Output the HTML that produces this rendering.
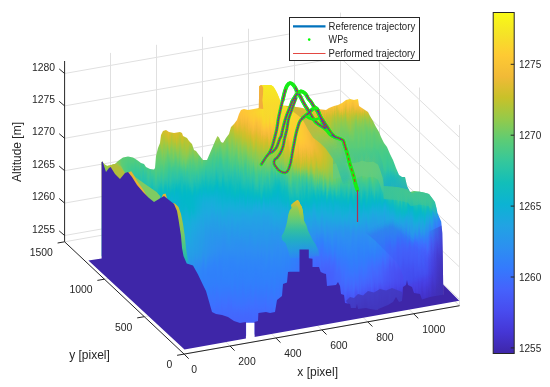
<!DOCTYPE html><html><head><meta charset="utf-8"><title>plot</title><style>html,body{margin:0;padding:0;background:#fff}svg{display:block}text{font-family:"Liberation Sans",sans-serif;fill:#262626}</style></head><body>
<svg width="550" height="387" viewBox="0 0 550 387">
<defs>
<linearGradient id="cb" x1="0" y1="0" x2="0" y2="1"><stop offset="0.0000" stop-color="#f9fb15"/><stop offset="0.0625" stop-color="#f5e327"/><stop offset="0.1250" stop-color="#feca33"/><stop offset="0.1875" stop-color="#f1ba37"/><stop offset="0.2500" stop-color="#c8c129"/><stop offset="0.3125" stop-color="#94ca4a"/><stop offset="0.3750" stop-color="#5ccc76"/><stop offset="0.4375" stop-color="#34c79c"/><stop offset="0.5000" stop-color="#12beb9"/><stop offset="0.5625" stop-color="#0cb3d3"/><stop offset="0.6250" stop-color="#21a3e3"/><stop offset="0.6875" stop-color="#2c90f0"/><stop offset="0.7500" stop-color="#347afd"/><stop offset="0.8125" stop-color="#4562fc"/><stop offset="0.8750" stop-color="#484cef"/><stop offset="0.9375" stop-color="#4536d5"/><stop offset="1.0000" stop-color="#3e26a8"/></linearGradient>
<clipPath id="sil"><polygon points="101.6,162.0 102.6,161.6 104.0,164.0 107.0,166.0 111.0,165.0 115.0,164.0 118.0,161.0 123.0,157.6 128.0,156.6 133.0,157.6 137.0,160.0 141.0,163.0 144.0,164.0 146.0,167.0 150.0,169.0 154.0,169.6 155.0,168.0 156.0,156.0 158.0,148.0 160.0,143.0 161.0,135.0 163.0,131.0 166.0,130.0 169.0,132.0 174.0,133.0 180.0,132.0 182.0,133.0 183.0,136.0 187.0,138.0 189.0,141.0 192.0,144.0 194.0,150.0 196.0,151.0 199.0,155.0 203.0,160.0 207.0,160.0 210.0,153.0 213.0,146.0 216.0,139.0 217.5,136.0 219.0,137.5 221.0,142.0 223.0,143.0 226.0,138.0 229.0,134.0 231.0,127.0 234.0,124.0 237.0,120.0 239.0,114.0 241.0,110.0 244.0,109.0 248.0,110.0 254.0,109.0 258.8,108.0 259.2,86.3 260.5,85.3 265.0,85.0 271.0,85.0 273.5,86.8 275.5,90.0 277.3,93.5 279.0,97.5 280.5,102.0 282.5,105.5 288.0,106.0 296.0,107.0 302.0,108.0 310.0,110.0 318.0,109.0 326.0,110.0 329.0,108.0 334.0,106.0 338.0,105.0 342.0,103.0 346.0,100.0 350.0,99.0 354.0,100.0 358.0,99.0 359.0,106.0 362.0,108.0 365.0,110.0 368.0,112.0 370.0,116.0 373.0,121.0 376.0,127.0 379.0,132.0 381.0,137.0 384.0,143.0 387.0,147.0 390.0,154.0 393.0,160.0 396.0,168.0 399.0,175.0 402.0,177.0 405.0,177.0 407.0,186.0 410.0,192.0 414.0,191.0 419.0,191.6 424.0,192.4 429.0,194.0 432.0,198.0 435.0,202.0 436.5,208.0 437.5,213.0 439.2,217.0 441.2,221.6 442.3,233.0 442.8,256.5 443.2,287.0 443.2,296.5 255.0,334.5 245.0,336.0 190.0,340.0 101.6,256.0"/></clipPath>
<filter id="bl" x="-5%" y="-5%" width="110%" height="110%" color-interpolation-filters="sRGB"><feGaussianBlur stdDeviation="3" result="b"/><feTurbulence type="fractalNoise" baseFrequency="0.38 0.035" numOctaves="2" seed="7" result="n"/><feColorMatrix in="n" type="matrix" values="1 0 0 0 0  0 0 0 0 0.5  0 0 0 0 0.5  0 0 0 0 1" result="n2"/><feDisplacementMap in="b" in2="n2" scale="13" xChannelSelector="G" yChannelSelector="R"/></filter><filter id="b1"><feGaussianBlur stdDeviation="1"/></filter><filter id="b2"><feGaussianBlur stdDeviation="2"/></filter>
</defs>
<rect width="550" height="387" fill="#fff"/>
<g stroke="#e0e0e0" stroke-width="1" fill="none">
<line x1="110.5" y1="233.7" x2="110.5" y2="52.9"/>
<line x1="110.5" y1="233.7" x2="230.0" y2="346.0"/>
<line x1="156.5" y1="225.6" x2="156.5" y2="44.8"/>
<line x1="156.4" y1="225.6" x2="275.9" y2="338.0"/>
<line x1="202.5" y1="217.6" x2="202.5" y2="36.8"/>
<line x1="202.3" y1="217.6" x2="321.9" y2="329.9"/>
<line x1="248.5" y1="209.5" x2="248.5" y2="28.7"/>
<line x1="248.2" y1="209.5" x2="367.8" y2="321.9"/>
<line x1="294.5" y1="201.5" x2="294.5" y2="20.7"/>
<line x1="294.1" y1="201.5" x2="413.7" y2="313.8"/>
<line x1="340.5" y1="193.4" x2="340.5" y2="12.6"/>
<line x1="340.1" y1="193.4" x2="459.6" y2="305.7"/>
<line x1="459.5" y1="305.7" x2="459.5" y2="124.9"/>
<line x1="459.6" y1="305.7" x2="184.1" y2="354.1"/>
<line x1="419.5" y1="268.3" x2="419.5" y2="87.5"/>
<line x1="419.8" y1="268.3" x2="144.2" y2="316.7"/>
<line x1="379.5" y1="230.8" x2="379.5" y2="50.0"/>
<line x1="379.9" y1="230.8" x2="104.4" y2="279.2"/>
<line x1="64.6" y1="235.5" x2="340.1" y2="187.1"/>
<line x1="340.1" y1="187.1" x2="459.6" y2="299.5"/>
<line x1="64.6" y1="203.1" x2="340.1" y2="154.7"/>
<line x1="340.1" y1="154.7" x2="459.6" y2="267.1"/>
<line x1="64.6" y1="170.7" x2="340.1" y2="122.3"/>
<line x1="340.1" y1="122.3" x2="459.6" y2="234.7"/>
<line x1="64.6" y1="138.3" x2="340.1" y2="89.9"/>
<line x1="340.1" y1="89.9" x2="459.6" y2="202.3"/>
<line x1="64.6" y1="105.9" x2="340.1" y2="57.5"/>
<line x1="340.1" y1="57.5" x2="459.6" y2="169.9"/>
<line x1="64.6" y1="73.5" x2="340.1" y2="25.1"/>
<line x1="340.1" y1="25.1" x2="459.6" y2="137.5"/>
<polyline points="64.6,241.8 340.1,193.4 459.6,305.7"/>
</g>
<g clip-path="url(#sil)"><g filter="url(#bl)">
<rect x="252" y="74" width="7" height="7" fill="#f6e028"/>
<rect x="258" y="74" width="7" height="7" fill="#f5ee21"/>
<rect x="264" y="74" width="7" height="7" fill="#f9fb15"/>
<rect x="270" y="74" width="7" height="7" fill="#f9fb15"/>
<rect x="276" y="74" width="7" height="7" fill="#f9fb15"/>
<rect x="252" y="80" width="7" height="7" fill="#fad42e"/>
<rect x="258" y="80" width="7" height="7" fill="#f5e725"/>
<rect x="264" y="80" width="7" height="7" fill="#f9f916"/>
<rect x="270" y="80" width="7" height="7" fill="#f9fb15"/>
<rect x="276" y="80" width="7" height="7" fill="#f9fb15"/>
<rect x="282" y="80" width="7" height="7" fill="#f8f719"/>
<rect x="246" y="86" width="7" height="7" fill="#fec239"/>
<rect x="252" y="86" width="7" height="7" fill="#fec735"/>
<rect x="258" y="86" width="7" height="7" fill="#f8da2b"/>
<rect x="264" y="86" width="7" height="7" fill="#f9fa15"/>
<rect x="270" y="86" width="7" height="7" fill="#f9fa16"/>
<rect x="276" y="86" width="7" height="7" fill="#f7f41c"/>
<rect x="282" y="86" width="7" height="7" fill="#f5ed21"/>
<rect x="246" y="92" width="7" height="7" fill="#fec03a"/>
<rect x="252" y="92" width="7" height="7" fill="#fec437"/>
<rect x="258" y="92" width="7" height="7" fill="#fbd12f"/>
<rect x="264" y="92" width="7" height="7" fill="#f6f11e"/>
<rect x="270" y="92" width="7" height="7" fill="#f8f719"/>
<rect x="276" y="92" width="7" height="7" fill="#f5ed22"/>
<rect x="282" y="92" width="7" height="7" fill="#f5e327"/>
<rect x="288" y="92" width="7" height="7" fill="#f6df29"/>
<rect x="330" y="92" width="7" height="7" fill="#f5e227"/>
<rect x="336" y="92" width="7" height="7" fill="#f5e228"/>
<rect x="342" y="92" width="7" height="7" fill="#f6de29"/>
<rect x="348" y="92" width="7" height="7" fill="#f8da2b"/>
<rect x="354" y="92" width="7" height="7" fill="#f8da2b"/>
<rect x="360" y="92" width="7" height="7" fill="#f9d82c"/>
<rect x="228" y="98" width="7" height="7" fill="#febd3c"/>
<rect x="234" y="98" width="7" height="7" fill="#fec03b"/>
<rect x="240" y="98" width="7" height="7" fill="#fec239"/>
<rect x="246" y="98" width="7" height="7" fill="#fec438"/>
<rect x="252" y="98" width="7" height="7" fill="#fec934"/>
<rect x="258" y="98" width="7" height="7" fill="#f8da2b"/>
<rect x="264" y="98" width="7" height="7" fill="#f6ef20"/>
<rect x="270" y="98" width="7" height="7" fill="#f7f31d"/>
<rect x="276" y="98" width="7" height="7" fill="#f5e426"/>
<rect x="282" y="98" width="7" height="7" fill="#f6dd2a"/>
<rect x="288" y="98" width="7" height="7" fill="#f8da2b"/>
<rect x="294" y="98" width="7" height="7" fill="#fad42e"/>
<rect x="300" y="98" width="7" height="7" fill="#fccf30"/>
<rect x="306" y="98" width="7" height="7" fill="#fdcd32"/>
<rect x="312" y="98" width="7" height="7" fill="#fdcd32"/>
<rect x="318" y="98" width="7" height="7" fill="#fccf30"/>
<rect x="324" y="98" width="7" height="7" fill="#fbd22f"/>
<rect x="330" y="98" width="7" height="7" fill="#fbd32e"/>
<rect x="336" y="98" width="7" height="7" fill="#fbd32e"/>
<rect x="342" y="98" width="7" height="7" fill="#fcd030"/>
<rect x="348" y="98" width="7" height="7" fill="#fec934"/>
<rect x="354" y="98" width="7" height="7" fill="#fdcc32"/>
<rect x="360" y="98" width="7" height="7" fill="#feca34"/>
<rect x="366" y="98" width="7" height="7" fill="#fec438"/>
<rect x="372" y="98" width="7" height="7" fill="#febe3c"/>
<rect x="228" y="104" width="7" height="7" fill="#fcbc3d"/>
<rect x="234" y="104" width="7" height="7" fill="#fec13a"/>
<rect x="240" y="104" width="7" height="7" fill="#fec636"/>
<rect x="246" y="104" width="7" height="7" fill="#feca33"/>
<rect x="252" y="104" width="7" height="7" fill="#fdcc32"/>
<rect x="258" y="104" width="7" height="7" fill="#f9d62d"/>
<rect x="264" y="104" width="7" height="7" fill="#f5ea23"/>
<rect x="270" y="104" width="7" height="7" fill="#f5eb23"/>
<rect x="276" y="104" width="7" height="7" fill="#f5e426"/>
<rect x="282" y="104" width="7" height="7" fill="#f6e128"/>
<rect x="288" y="104" width="7" height="7" fill="#f8da2b"/>
<rect x="294" y="104" width="7" height="7" fill="#fcd030"/>
<rect x="300" y="104" width="7" height="7" fill="#fec736"/>
<rect x="306" y="104" width="7" height="7" fill="#fec13a"/>
<rect x="312" y="104" width="7" height="7" fill="#febf3c"/>
<rect x="318" y="104" width="7" height="7" fill="#fec03b"/>
<rect x="324" y="104" width="7" height="7" fill="#fec03a"/>
<rect x="330" y="104" width="7" height="7" fill="#febe3c"/>
<rect x="336" y="104" width="7" height="7" fill="#febd3c"/>
<rect x="342" y="104" width="7" height="7" fill="#febd3c"/>
<rect x="348" y="104" width="7" height="7" fill="#f9bb3d"/>
<rect x="354" y="104" width="7" height="7" fill="#fabb3d"/>
<rect x="360" y="104" width="7" height="7" fill="#f9bb3d"/>
<rect x="366" y="104" width="7" height="7" fill="#eeba35"/>
<rect x="372" y="104" width="7" height="7" fill="#e7bb2e"/>
<rect x="222" y="110" width="7" height="7" fill="#eeba34"/>
<rect x="228" y="110" width="7" height="7" fill="#f6ba3c"/>
<rect x="234" y="110" width="7" height="7" fill="#febe3c"/>
<rect x="240" y="110" width="7" height="7" fill="#fec636"/>
<rect x="246" y="110" width="7" height="7" fill="#fdcc32"/>
<rect x="252" y="110" width="7" height="7" fill="#fbd22f"/>
<rect x="258" y="110" width="7" height="7" fill="#f7db2a"/>
<rect x="264" y="110" width="7" height="7" fill="#f5e725"/>
<rect x="270" y="110" width="7" height="7" fill="#f5e526"/>
<rect x="276" y="110" width="7" height="7" fill="#f6e028"/>
<rect x="282" y="110" width="7" height="7" fill="#f6df29"/>
<rect x="288" y="110" width="7" height="7" fill="#f8da2b"/>
<rect x="294" y="110" width="7" height="7" fill="#fccf30"/>
<rect x="300" y="110" width="7" height="7" fill="#fec239"/>
<rect x="306" y="110" width="7" height="7" fill="#f7ba3c"/>
<rect x="312" y="110" width="7" height="7" fill="#efba35"/>
<rect x="318" y="110" width="7" height="7" fill="#ecba32"/>
<rect x="324" y="110" width="7" height="7" fill="#e6bb2d"/>
<rect x="330" y="110" width="7" height="7" fill="#d4bf28"/>
<rect x="336" y="110" width="7" height="7" fill="#d0c028"/>
<rect x="342" y="110" width="7" height="7" fill="#d3bf27"/>
<rect x="348" y="110" width="7" height="7" fill="#d0c027"/>
<rect x="354" y="110" width="7" height="7" fill="#d4bf27"/>
<rect x="360" y="110" width="7" height="7" fill="#d0c028"/>
<rect x="366" y="110" width="7" height="7" fill="#c5c22a"/>
<rect x="372" y="110" width="7" height="7" fill="#c5c22a"/>
<rect x="378" y="110" width="7" height="7" fill="#c4c22b"/>
<rect x="222" y="116" width="7" height="7" fill="#dfbc2a"/>
<rect x="228" y="116" width="7" height="7" fill="#e9bb30"/>
<rect x="234" y="116" width="7" height="7" fill="#f7ba3c"/>
<rect x="240" y="116" width="7" height="7" fill="#febf3c"/>
<rect x="246" y="116" width="7" height="7" fill="#fec438"/>
<rect x="252" y="116" width="7" height="7" fill="#fdca33"/>
<rect x="258" y="116" width="7" height="7" fill="#fbd12f"/>
<rect x="264" y="116" width="7" height="7" fill="#f8d92b"/>
<rect x="270" y="116" width="7" height="7" fill="#f9d82c"/>
<rect x="276" y="116" width="7" height="7" fill="#fbd32e"/>
<rect x="282" y="116" width="7" height="7" fill="#f9d72c"/>
<rect x="288" y="116" width="7" height="7" fill="#f8da2b"/>
<rect x="294" y="116" width="7" height="7" fill="#fbd12f"/>
<rect x="300" y="116" width="7" height="7" fill="#fec338"/>
<rect x="306" y="116" width="7" height="7" fill="#f0ba36"/>
<rect x="312" y="116" width="7" height="7" fill="#debd2a"/>
<rect x="318" y="116" width="7" height="7" fill="#d6be28"/>
<rect x="324" y="116" width="7" height="7" fill="#c6c22a"/>
<rect x="330" y="116" width="7" height="7" fill="#aec637"/>
<rect x="336" y="116" width="7" height="7" fill="#a5c83d"/>
<rect x="342" y="116" width="7" height="7" fill="#a7c73c"/>
<rect x="348" y="116" width="7" height="7" fill="#a7c73c"/>
<rect x="354" y="116" width="7" height="7" fill="#a5c83d"/>
<rect x="360" y="116" width="7" height="7" fill="#a0c841"/>
<rect x="366" y="116" width="7" height="7" fill="#a0c841"/>
<rect x="372" y="116" width="7" height="7" fill="#a2c840"/>
<rect x="378" y="116" width="7" height="7" fill="#a3c83e"/>
<rect x="384" y="116" width="7" height="7" fill="#a7c73c"/>
<rect x="150" y="122" width="7" height="7" fill="#cdc028"/>
<rect x="156" y="122" width="7" height="7" fill="#d7be28"/>
<rect x="162" y="122" width="7" height="7" fill="#e3bc2c"/>
<rect x="168" y="122" width="7" height="7" fill="#e9bb2f"/>
<rect x="174" y="122" width="7" height="7" fill="#e7bb2d"/>
<rect x="180" y="122" width="7" height="7" fill="#e1bc2b"/>
<rect x="186" y="122" width="7" height="7" fill="#dcbd29"/>
<rect x="216" y="122" width="7" height="7" fill="#c7c12a"/>
<rect x="222" y="122" width="7" height="7" fill="#c9c129"/>
<rect x="228" y="122" width="7" height="7" fill="#d2bf27"/>
<rect x="234" y="122" width="7" height="7" fill="#e1bc2b"/>
<rect x="240" y="122" width="7" height="7" fill="#efba35"/>
<rect x="246" y="122" width="7" height="7" fill="#f9ba3d"/>
<rect x="252" y="122" width="7" height="7" fill="#febf3c"/>
<rect x="258" y="122" width="7" height="7" fill="#fec438"/>
<rect x="264" y="122" width="7" height="7" fill="#fec835"/>
<rect x="270" y="122" width="7" height="7" fill="#fec934"/>
<rect x="276" y="122" width="7" height="7" fill="#fec934"/>
<rect x="282" y="122" width="7" height="7" fill="#fdcd32"/>
<rect x="288" y="122" width="7" height="7" fill="#fbd22f"/>
<rect x="294" y="122" width="7" height="7" fill="#fbd32e"/>
<rect x="300" y="122" width="7" height="7" fill="#fec835"/>
<rect x="306" y="122" width="7" height="7" fill="#f2ba38"/>
<rect x="312" y="122" width="7" height="7" fill="#d3bf27"/>
<rect x="318" y="122" width="7" height="7" fill="#c0c32d"/>
<rect x="324" y="122" width="7" height="7" fill="#afc637"/>
<rect x="330" y="122" width="7" height="7" fill="#9dc943"/>
<rect x="336" y="122" width="7" height="7" fill="#90ca4d"/>
<rect x="342" y="122" width="7" height="7" fill="#8ecb4e"/>
<rect x="348" y="122" width="7" height="7" fill="#90ca4d"/>
<rect x="354" y="122" width="7" height="7" fill="#87cb54"/>
<rect x="360" y="122" width="7" height="7" fill="#82cc58"/>
<rect x="366" y="122" width="7" height="7" fill="#82cc58"/>
<rect x="372" y="122" width="7" height="7" fill="#82cc58"/>
<rect x="378" y="122" width="7" height="7" fill="#85cb56"/>
<rect x="384" y="122" width="7" height="7" fill="#8ccb50"/>
<rect x="150" y="128" width="7" height="7" fill="#bfc32d"/>
<rect x="156" y="128" width="7" height="7" fill="#cbc129"/>
<rect x="162" y="128" width="7" height="7" fill="#dcbd29"/>
<rect x="168" y="128" width="7" height="7" fill="#e2bc2b"/>
<rect x="174" y="128" width="7" height="7" fill="#debd29"/>
<rect x="180" y="128" width="7" height="7" fill="#d5be28"/>
<rect x="186" y="128" width="7" height="7" fill="#d1bf27"/>
<rect x="192" y="128" width="7" height="7" fill="#cbc129"/>
<rect x="204" y="128" width="7" height="7" fill="#bcc42f"/>
<rect x="216" y="128" width="7" height="7" fill="#b0c636"/>
<rect x="222" y="128" width="7" height="7" fill="#b0c636"/>
<rect x="228" y="128" width="7" height="7" fill="#b6c532"/>
<rect x="234" y="128" width="7" height="7" fill="#c6c22a"/>
<rect x="240" y="128" width="7" height="7" fill="#d8be28"/>
<rect x="246" y="128" width="7" height="7" fill="#e5bb2d"/>
<rect x="252" y="128" width="7" height="7" fill="#f0ba36"/>
<rect x="258" y="128" width="7" height="7" fill="#f8ba3d"/>
<rect x="264" y="128" width="7" height="7" fill="#fbbc3d"/>
<rect x="270" y="128" width="7" height="7" fill="#fdbd3d"/>
<rect x="276" y="128" width="7" height="7" fill="#febf3c"/>
<rect x="282" y="128" width="7" height="7" fill="#fec437"/>
<rect x="288" y="128" width="7" height="7" fill="#fdcc32"/>
<rect x="294" y="128" width="7" height="7" fill="#fbd22f"/>
<rect x="300" y="128" width="7" height="7" fill="#fdcc32"/>
<rect x="306" y="128" width="7" height="7" fill="#f9bb3d"/>
<rect x="312" y="128" width="7" height="7" fill="#d5be28"/>
<rect x="318" y="128" width="7" height="7" fill="#b7c532"/>
<rect x="324" y="128" width="7" height="7" fill="#a3c83f"/>
<rect x="330" y="128" width="7" height="7" fill="#8acb51"/>
<rect x="336" y="128" width="7" height="7" fill="#7bcc5d"/>
<rect x="342" y="128" width="7" height="7" fill="#79cc5e"/>
<rect x="348" y="128" width="7" height="7" fill="#79cc5e"/>
<rect x="354" y="128" width="7" height="7" fill="#74cc62"/>
<rect x="360" y="128" width="7" height="7" fill="#6fcd65"/>
<rect x="366" y="128" width="7" height="7" fill="#6bcd69"/>
<rect x="372" y="128" width="7" height="7" fill="#68cd6c"/>
<rect x="378" y="128" width="7" height="7" fill="#6ccd68"/>
<rect x="384" y="128" width="7" height="7" fill="#77cc60"/>
<rect x="390" y="128" width="7" height="7" fill="#80cc59"/>
<rect x="150" y="134" width="7" height="7" fill="#aec637"/>
<rect x="156" y="134" width="7" height="7" fill="#bbc42f"/>
<rect x="162" y="134" width="7" height="7" fill="#c9c129"/>
<rect x="168" y="134" width="7" height="7" fill="#cfc028"/>
<rect x="174" y="134" width="7" height="7" fill="#cec028"/>
<rect x="180" y="134" width="7" height="7" fill="#c9c129"/>
<rect x="186" y="134" width="7" height="7" fill="#c4c22a"/>
<rect x="192" y="134" width="7" height="7" fill="#bdc32e"/>
<rect x="198" y="134" width="7" height="7" fill="#b4c534"/>
<rect x="204" y="134" width="7" height="7" fill="#a9c73a"/>
<rect x="210" y="134" width="7" height="7" fill="#9fc941"/>
<rect x="216" y="134" width="7" height="7" fill="#99c946"/>
<rect x="222" y="134" width="7" height="7" fill="#97ca48"/>
<rect x="228" y="134" width="7" height="7" fill="#9dc943"/>
<rect x="234" y="134" width="7" height="7" fill="#adc638"/>
<rect x="240" y="134" width="7" height="7" fill="#c0c32d"/>
<rect x="246" y="134" width="7" height="7" fill="#d0bf27"/>
<rect x="252" y="134" width="7" height="7" fill="#dcbd29"/>
<rect x="258" y="134" width="7" height="7" fill="#e5bb2c"/>
<rect x="264" y="134" width="7" height="7" fill="#e9bb30"/>
<rect x="270" y="134" width="7" height="7" fill="#ecba32"/>
<rect x="276" y="134" width="7" height="7" fill="#f1ba37"/>
<rect x="282" y="134" width="7" height="7" fill="#fbbc3d"/>
<rect x="288" y="134" width="7" height="7" fill="#fec537"/>
<rect x="294" y="134" width="7" height="7" fill="#fdce31"/>
<rect x="300" y="134" width="7" height="7" fill="#fdcc32"/>
<rect x="306" y="134" width="7" height="7" fill="#febe3c"/>
<rect x="312" y="134" width="7" height="7" fill="#e4bb2c"/>
<rect x="318" y="134" width="7" height="7" fill="#c5c22a"/>
<rect x="324" y="134" width="7" height="7" fill="#a6c73c"/>
<rect x="330" y="134" width="7" height="7" fill="#85cb55"/>
<rect x="336" y="134" width="7" height="7" fill="#6ecd67"/>
<rect x="342" y="134" width="7" height="7" fill="#6acd6a"/>
<rect x="348" y="134" width="7" height="7" fill="#69cd6b"/>
<rect x="354" y="134" width="7" height="7" fill="#67cd6d"/>
<rect x="360" y="134" width="7" height="7" fill="#64cd6f"/>
<rect x="366" y="134" width="7" height="7" fill="#5fcd73"/>
<rect x="372" y="134" width="7" height="7" fill="#5dcc75"/>
<rect x="378" y="134" width="7" height="7" fill="#64cd6f"/>
<rect x="384" y="134" width="7" height="7" fill="#6bcd69"/>
<rect x="390" y="134" width="7" height="7" fill="#70cd65"/>
<rect x="144" y="140" width="7" height="7" fill="#91ca4d"/>
<rect x="150" y="140" width="7" height="7" fill="#9bc945"/>
<rect x="156" y="140" width="7" height="7" fill="#a4c83e"/>
<rect x="162" y="140" width="7" height="7" fill="#abc739"/>
<rect x="168" y="140" width="7" height="7" fill="#aec637"/>
<rect x="174" y="140" width="7" height="7" fill="#b3c534"/>
<rect x="180" y="140" width="7" height="7" fill="#b5c533"/>
<rect x="186" y="140" width="7" height="7" fill="#b4c533"/>
<rect x="192" y="140" width="7" height="7" fill="#aec637"/>
<rect x="198" y="140" width="7" height="7" fill="#a2c840"/>
<rect x="204" y="140" width="7" height="7" fill="#93ca4a"/>
<rect x="210" y="140" width="7" height="7" fill="#87cb54"/>
<rect x="216" y="140" width="7" height="7" fill="#80cc59"/>
<rect x="222" y="140" width="7" height="7" fill="#7fcc5a"/>
<rect x="228" y="140" width="7" height="7" fill="#86cb55"/>
<rect x="234" y="140" width="7" height="7" fill="#95ca49"/>
<rect x="240" y="140" width="7" height="7" fill="#a7c73c"/>
<rect x="246" y="140" width="7" height="7" fill="#b9c430"/>
<rect x="252" y="140" width="7" height="7" fill="#c6c22a"/>
<rect x="258" y="140" width="7" height="7" fill="#cec028"/>
<rect x="264" y="140" width="7" height="7" fill="#d3bf27"/>
<rect x="270" y="140" width="7" height="7" fill="#d6be28"/>
<rect x="276" y="140" width="7" height="7" fill="#dbbd28"/>
<rect x="282" y="140" width="7" height="7" fill="#e8bb2e"/>
<rect x="288" y="140" width="7" height="7" fill="#fabb3d"/>
<rect x="294" y="140" width="7" height="7" fill="#fec636"/>
<rect x="300" y="140" width="7" height="7" fill="#fec834"/>
<rect x="306" y="140" width="7" height="7" fill="#fec03b"/>
<rect x="312" y="140" width="7" height="7" fill="#efba35"/>
<rect x="318" y="140" width="7" height="7" fill="#d5be28"/>
<rect x="324" y="140" width="7" height="7" fill="#b4c533"/>
<rect x="330" y="140" width="7" height="7" fill="#8ecb4f"/>
<rect x="336" y="140" width="7" height="7" fill="#65cd6e"/>
<rect x="342" y="140" width="7" height="7" fill="#60cd72"/>
<rect x="348" y="140" width="7" height="7" fill="#5ccc75"/>
<rect x="354" y="140" width="7" height="7" fill="#5dcc74"/>
<rect x="360" y="140" width="7" height="7" fill="#5ccc76"/>
<rect x="366" y="140" width="7" height="7" fill="#58cc79"/>
<rect x="372" y="140" width="7" height="7" fill="#57cc7a"/>
<rect x="378" y="140" width="7" height="7" fill="#5bcc77"/>
<rect x="384" y="140" width="7" height="7" fill="#5ecc74"/>
<rect x="390" y="140" width="7" height="7" fill="#62cd71"/>
<rect x="396" y="140" width="7" height="7" fill="#69cd6b"/>
<rect x="108" y="146" width="7" height="7" fill="#84cc56"/>
<rect x="114" y="146" width="7" height="7" fill="#71cd64"/>
<rect x="120" y="146" width="7" height="7" fill="#66cd6d"/>
<rect x="126" y="146" width="7" height="7" fill="#67cd6c"/>
<rect x="132" y="146" width="7" height="7" fill="#6ecd67"/>
<rect x="138" y="146" width="7" height="7" fill="#75cc61"/>
<rect x="144" y="146" width="7" height="7" fill="#7dcc5b"/>
<rect x="150" y="146" width="7" height="7" fill="#85cb55"/>
<rect x="156" y="146" width="7" height="7" fill="#8bcb51"/>
<rect x="162" y="146" width="7" height="7" fill="#8dcb4f"/>
<rect x="168" y="146" width="7" height="7" fill="#8fcb4e"/>
<rect x="174" y="146" width="7" height="7" fill="#95ca49"/>
<rect x="180" y="146" width="7" height="7" fill="#9dc943"/>
<rect x="186" y="146" width="7" height="7" fill="#a0c841"/>
<rect x="192" y="146" width="7" height="7" fill="#9bc944"/>
<rect x="198" y="146" width="7" height="7" fill="#8dcb4f"/>
<rect x="204" y="146" width="7" height="7" fill="#7bcc5d"/>
<rect x="210" y="146" width="7" height="7" fill="#6ccd68"/>
<rect x="216" y="146" width="7" height="7" fill="#66cd6d"/>
<rect x="222" y="146" width="7" height="7" fill="#68cd6b"/>
<rect x="228" y="146" width="7" height="7" fill="#71cd64"/>
<rect x="234" y="146" width="7" height="7" fill="#7ecc5b"/>
<rect x="240" y="146" width="7" height="7" fill="#8dcb4f"/>
<rect x="246" y="146" width="7" height="7" fill="#9dc943"/>
<rect x="252" y="146" width="7" height="7" fill="#adc638"/>
<rect x="258" y="146" width="7" height="7" fill="#b9c431"/>
<rect x="264" y="146" width="7" height="7" fill="#bdc42f"/>
<rect x="270" y="146" width="7" height="7" fill="#bcc42f"/>
<rect x="276" y="146" width="7" height="7" fill="#bec32e"/>
<rect x="282" y="146" width="7" height="7" fill="#cbc129"/>
<rect x="288" y="146" width="7" height="7" fill="#e8bb2e"/>
<rect x="294" y="146" width="7" height="7" fill="#fcbd3d"/>
<rect x="300" y="146" width="7" height="7" fill="#fec13a"/>
<rect x="306" y="146" width="7" height="7" fill="#fcbd3d"/>
<rect x="312" y="146" width="7" height="7" fill="#f2ba38"/>
<rect x="318" y="146" width="7" height="7" fill="#debd29"/>
<rect x="324" y="146" width="7" height="7" fill="#c2c22c"/>
<rect x="330" y="146" width="7" height="7" fill="#a0c841"/>
<rect x="336" y="146" width="7" height="7" fill="#72cd63"/>
<rect x="342" y="146" width="7" height="7" fill="#59cc78"/>
<rect x="348" y="146" width="7" height="7" fill="#55cc7c"/>
<rect x="354" y="146" width="7" height="7" fill="#57cc7a"/>
<rect x="360" y="146" width="7" height="7" fill="#55cc7c"/>
<rect x="366" y="146" width="7" height="7" fill="#51cc7f"/>
<rect x="372" y="146" width="7" height="7" fill="#4dcc82"/>
<rect x="378" y="146" width="7" height="7" fill="#4ccb83"/>
<rect x="384" y="146" width="7" height="7" fill="#4dcc82"/>
<rect x="390" y="146" width="7" height="7" fill="#54cc7c"/>
<rect x="396" y="146" width="7" height="7" fill="#5dcc75"/>
<rect x="90" y="152" width="7" height="7" fill="#abc739"/>
<rect x="102" y="152" width="7" height="7" fill="#9cc944"/>
<rect x="108" y="152" width="7" height="7" fill="#8bcb51"/>
<rect x="114" y="152" width="7" height="7" fill="#6ccd68"/>
<rect x="120" y="152" width="7" height="7" fill="#59cc79"/>
<rect x="126" y="152" width="7" height="7" fill="#5acc77"/>
<rect x="132" y="152" width="7" height="7" fill="#60cd73"/>
<rect x="138" y="152" width="7" height="7" fill="#64cd6f"/>
<rect x="144" y="152" width="7" height="7" fill="#6acd6a"/>
<rect x="150" y="152" width="7" height="7" fill="#70cd65"/>
<rect x="156" y="152" width="7" height="7" fill="#74cd62"/>
<rect x="162" y="152" width="7" height="7" fill="#73cd63"/>
<rect x="168" y="152" width="7" height="7" fill="#72cd63"/>
<rect x="174" y="152" width="7" height="7" fill="#78cc5f"/>
<rect x="180" y="152" width="7" height="7" fill="#81cc59"/>
<rect x="186" y="152" width="7" height="7" fill="#88cb54"/>
<rect x="192" y="152" width="7" height="7" fill="#85cb56"/>
<rect x="198" y="152" width="7" height="7" fill="#75cc61"/>
<rect x="204" y="152" width="7" height="7" fill="#62cd71"/>
<rect x="210" y="152" width="7" height="7" fill="#53cc7d"/>
<rect x="216" y="152" width="7" height="7" fill="#4fcc80"/>
<rect x="222" y="152" width="7" height="7" fill="#55cc7b"/>
<rect x="228" y="152" width="7" height="7" fill="#60cd73"/>
<rect x="234" y="152" width="7" height="7" fill="#69cd6b"/>
<rect x="240" y="152" width="7" height="7" fill="#73cd63"/>
<rect x="246" y="152" width="7" height="7" fill="#81cc58"/>
<rect x="252" y="152" width="7" height="7" fill="#93ca4a"/>
<rect x="258" y="152" width="7" height="7" fill="#a2c840"/>
<rect x="264" y="152" width="7" height="7" fill="#a5c83e"/>
<rect x="270" y="152" width="7" height="7" fill="#a1c840"/>
<rect x="276" y="152" width="7" height="7" fill="#a1c840"/>
<rect x="282" y="152" width="7" height="7" fill="#b2c635"/>
<rect x="288" y="152" width="7" height="7" fill="#d1bf27"/>
<rect x="294" y="152" width="7" height="7" fill="#e9bb30"/>
<rect x="300" y="152" width="7" height="7" fill="#f0ba36"/>
<rect x="306" y="152" width="7" height="7" fill="#edba33"/>
<rect x="312" y="152" width="7" height="7" fill="#e9bb30"/>
<rect x="318" y="152" width="7" height="7" fill="#dcbd29"/>
<rect x="324" y="152" width="7" height="7" fill="#c6c22a"/>
<rect x="330" y="152" width="7" height="7" fill="#a7c73c"/>
<rect x="336" y="152" width="7" height="7" fill="#81cc58"/>
<rect x="342" y="152" width="7" height="7" fill="#62cd70"/>
<rect x="348" y="152" width="7" height="7" fill="#56cc7b"/>
<rect x="354" y="152" width="7" height="7" fill="#57cc7a"/>
<rect x="360" y="152" width="7" height="7" fill="#50cc7f"/>
<rect x="366" y="152" width="7" height="7" fill="#50cc80"/>
<rect x="372" y="152" width="7" height="7" fill="#4dcc82"/>
<rect x="378" y="152" width="7" height="7" fill="#44cb89"/>
<rect x="384" y="152" width="7" height="7" fill="#41ca8c"/>
<rect x="390" y="152" width="7" height="7" fill="#49cb86"/>
<rect x="396" y="152" width="7" height="7" fill="#53cc7d"/>
<rect x="90" y="158" width="7" height="7" fill="#afc637"/>
<rect x="96" y="158" width="7" height="7" fill="#aac739"/>
<rect x="102" y="158" width="7" height="7" fill="#aac73a"/>
<rect x="108" y="158" width="7" height="7" fill="#a5c83d"/>
<rect x="114" y="158" width="7" height="7" fill="#79cc5f"/>
<rect x="120" y="158" width="7" height="7" fill="#50cc7f"/>
<rect x="126" y="158" width="7" height="7" fill="#4ecc81"/>
<rect x="132" y="158" width="7" height="7" fill="#50cc7f"/>
<rect x="138" y="158" width="7" height="7" fill="#53cc7d"/>
<rect x="144" y="158" width="7" height="7" fill="#58cc79"/>
<rect x="150" y="158" width="7" height="7" fill="#5fcd73"/>
<rect x="156" y="158" width="7" height="7" fill="#62cd71"/>
<rect x="162" y="158" width="7" height="7" fill="#5ecc74"/>
<rect x="168" y="158" width="7" height="7" fill="#59cc78"/>
<rect x="174" y="158" width="7" height="7" fill="#5ccc76"/>
<rect x="180" y="158" width="7" height="7" fill="#63cd6f"/>
<rect x="186" y="158" width="7" height="7" fill="#6bcd69"/>
<rect x="192" y="158" width="7" height="7" fill="#69cd6a"/>
<rect x="198" y="158" width="7" height="7" fill="#5ccc76"/>
<rect x="204" y="158" width="7" height="7" fill="#4bcb84"/>
<rect x="210" y="158" width="7" height="7" fill="#3eca8f"/>
<rect x="216" y="158" width="7" height="7" fill="#3dc990"/>
<rect x="222" y="158" width="7" height="7" fill="#44cb8a"/>
<rect x="228" y="158" width="7" height="7" fill="#4ecc81"/>
<rect x="234" y="158" width="7" height="7" fill="#55cc7b"/>
<rect x="240" y="158" width="7" height="7" fill="#5bcc76"/>
<rect x="246" y="158" width="7" height="7" fill="#66cd6d"/>
<rect x="252" y="158" width="7" height="7" fill="#78cc5f"/>
<rect x="258" y="158" width="7" height="7" fill="#87cb54"/>
<rect x="264" y="158" width="7" height="7" fill="#89cb53"/>
<rect x="270" y="158" width="7" height="7" fill="#81cc58"/>
<rect x="276" y="158" width="7" height="7" fill="#82cc58"/>
<rect x="282" y="158" width="7" height="7" fill="#96ca49"/>
<rect x="288" y="158" width="7" height="7" fill="#b8c431"/>
<rect x="294" y="158" width="7" height="7" fill="#cfc028"/>
<rect x="300" y="158" width="7" height="7" fill="#d2bf27"/>
<rect x="306" y="158" width="7" height="7" fill="#d1bf27"/>
<rect x="312" y="158" width="7" height="7" fill="#d6be28"/>
<rect x="318" y="158" width="7" height="7" fill="#d0bf27"/>
<rect x="324" y="158" width="7" height="7" fill="#c0c32d"/>
<rect x="330" y="158" width="7" height="7" fill="#a7c73c"/>
<rect x="336" y="158" width="7" height="7" fill="#89cb52"/>
<rect x="342" y="158" width="7" height="7" fill="#72cd64"/>
<rect x="348" y="158" width="7" height="7" fill="#6ccd68"/>
<rect x="354" y="158" width="7" height="7" fill="#6dcd67"/>
<rect x="360" y="158" width="7" height="7" fill="#69cd6b"/>
<rect x="366" y="158" width="7" height="7" fill="#6bcd69"/>
<rect x="372" y="158" width="7" height="7" fill="#5dcc75"/>
<rect x="378" y="158" width="7" height="7" fill="#44cb8a"/>
<rect x="384" y="158" width="7" height="7" fill="#3ac994"/>
<rect x="390" y="158" width="7" height="7" fill="#3fca8e"/>
<rect x="396" y="158" width="7" height="7" fill="#4acb84"/>
<rect x="402" y="158" width="7" height="7" fill="#56cc7a"/>
<rect x="90" y="164" width="7" height="7" fill="#b4c534"/>
<rect x="96" y="164" width="7" height="7" fill="#b2c535"/>
<rect x="102" y="164" width="7" height="7" fill="#b8c431"/>
<rect x="108" y="164" width="7" height="7" fill="#c7c12a"/>
<rect x="114" y="164" width="7" height="7" fill="#96ca48"/>
<rect x="120" y="164" width="7" height="7" fill="#55cc7b"/>
<rect x="126" y="164" width="7" height="7" fill="#41ca8c"/>
<rect x="132" y="164" width="7" height="7" fill="#3fca8e"/>
<rect x="138" y="164" width="7" height="7" fill="#3fca8e"/>
<rect x="144" y="164" width="7" height="7" fill="#44cb89"/>
<rect x="150" y="164" width="7" height="7" fill="#52cc7e"/>
<rect x="156" y="164" width="7" height="7" fill="#55cc7b"/>
<rect x="162" y="164" width="7" height="7" fill="#4bcb83"/>
<rect x="168" y="164" width="7" height="7" fill="#42ca8b"/>
<rect x="174" y="164" width="7" height="7" fill="#42ca8c"/>
<rect x="180" y="164" width="7" height="7" fill="#48cb86"/>
<rect x="186" y="164" width="7" height="7" fill="#4fcc81"/>
<rect x="192" y="164" width="7" height="7" fill="#4ecc81"/>
<rect x="198" y="164" width="7" height="7" fill="#44cb89"/>
<rect x="204" y="164" width="7" height="7" fill="#3ac994"/>
<rect x="210" y="164" width="7" height="7" fill="#34c79c"/>
<rect x="216" y="164" width="7" height="7" fill="#33c69e"/>
<rect x="222" y="164" width="7" height="7" fill="#36c899"/>
<rect x="228" y="164" width="7" height="7" fill="#3dc991"/>
<rect x="234" y="164" width="7" height="7" fill="#40ca8d"/>
<rect x="240" y="164" width="7" height="7" fill="#43ca8a"/>
<rect x="246" y="164" width="7" height="7" fill="#4bcb83"/>
<rect x="252" y="164" width="7" height="7" fill="#5bcc77"/>
<rect x="258" y="164" width="7" height="7" fill="#67cd6c"/>
<rect x="264" y="164" width="7" height="7" fill="#66cd6d"/>
<rect x="270" y="164" width="7" height="7" fill="#5dcc75"/>
<rect x="276" y="164" width="7" height="7" fill="#5ccc76"/>
<rect x="282" y="164" width="7" height="7" fill="#6fcd66"/>
<rect x="288" y="164" width="7" height="7" fill="#95ca49"/>
<rect x="294" y="164" width="7" height="7" fill="#a9c73a"/>
<rect x="300" y="164" width="7" height="7" fill="#acc738"/>
<rect x="306" y="164" width="7" height="7" fill="#b5c533"/>
<rect x="312" y="164" width="7" height="7" fill="#bec32e"/>
<rect x="318" y="164" width="7" height="7" fill="#bbc430"/>
<rect x="324" y="164" width="7" height="7" fill="#b2c635"/>
<rect x="330" y="164" width="7" height="7" fill="#9fc942"/>
<rect x="336" y="164" width="7" height="7" fill="#87cb54"/>
<rect x="342" y="164" width="7" height="7" fill="#78cc5f"/>
<rect x="348" y="164" width="7" height="7" fill="#7dcc5c"/>
<rect x="354" y="164" width="7" height="7" fill="#84cc56"/>
<rect x="360" y="164" width="7" height="7" fill="#80cc59"/>
<rect x="366" y="164" width="7" height="7" fill="#86cb55"/>
<rect x="372" y="164" width="7" height="7" fill="#6acd6a"/>
<rect x="378" y="164" width="7" height="7" fill="#45cb88"/>
<rect x="384" y="164" width="7" height="7" fill="#35c79a"/>
<rect x="390" y="164" width="7" height="7" fill="#36c899"/>
<rect x="396" y="164" width="7" height="7" fill="#41ca8d"/>
<rect x="402" y="164" width="7" height="7" fill="#4fcc80"/>
<rect x="408" y="164" width="7" height="7" fill="#5acc77"/>
<rect x="90" y="170" width="7" height="7" fill="#b8c531"/>
<rect x="96" y="170" width="7" height="7" fill="#b9c430"/>
<rect x="102" y="170" width="7" height="7" fill="#bfc32d"/>
<rect x="108" y="170" width="7" height="7" fill="#bfc32d"/>
<rect x="114" y="170" width="7" height="7" fill="#99c946"/>
<rect x="120" y="170" width="7" height="7" fill="#5fcd73"/>
<rect x="126" y="170" width="7" height="7" fill="#3fca8e"/>
<rect x="132" y="170" width="7" height="7" fill="#36c799"/>
<rect x="138" y="170" width="7" height="7" fill="#32c69f"/>
<rect x="144" y="170" width="7" height="7" fill="#35c79a"/>
<rect x="150" y="170" width="7" height="7" fill="#47cb87"/>
<rect x="156" y="170" width="7" height="7" fill="#4acb85"/>
<rect x="162" y="170" width="7" height="7" fill="#3cc991"/>
<rect x="168" y="170" width="7" height="7" fill="#33c69d"/>
<rect x="174" y="170" width="7" height="7" fill="#32c69f"/>
<rect x="180" y="170" width="7" height="7" fill="#35c79a"/>
<rect x="186" y="170" width="7" height="7" fill="#38c896"/>
<rect x="192" y="170" width="7" height="7" fill="#38c896"/>
<rect x="198" y="170" width="7" height="7" fill="#34c79b"/>
<rect x="204" y="170" width="7" height="7" fill="#2fc5a3"/>
<rect x="210" y="170" width="7" height="7" fill="#2bc3a8"/>
<rect x="216" y="170" width="7" height="7" fill="#29c3aa"/>
<rect x="222" y="170" width="7" height="7" fill="#2bc3a8"/>
<rect x="228" y="170" width="7" height="7" fill="#2dc4a5"/>
<rect x="234" y="170" width="7" height="7" fill="#30c5a2"/>
<rect x="240" y="170" width="7" height="7" fill="#32c69e"/>
<rect x="246" y="170" width="7" height="7" fill="#36c898"/>
<rect x="252" y="170" width="7" height="7" fill="#40ca8d"/>
<rect x="258" y="170" width="7" height="7" fill="#49cb86"/>
<rect x="264" y="170" width="7" height="7" fill="#45cb89"/>
<rect x="270" y="170" width="7" height="7" fill="#3bc992"/>
<rect x="276" y="170" width="7" height="7" fill="#39c995"/>
<rect x="282" y="170" width="7" height="7" fill="#4dcb82"/>
<rect x="288" y="170" width="7" height="7" fill="#70cd65"/>
<rect x="294" y="170" width="7" height="7" fill="#72cd63"/>
<rect x="300" y="170" width="7" height="7" fill="#74cc62"/>
<rect x="306" y="170" width="7" height="7" fill="#85cb55"/>
<rect x="312" y="170" width="7" height="7" fill="#96ca48"/>
<rect x="318" y="170" width="7" height="7" fill="#9dc943"/>
<rect x="324" y="170" width="7" height="7" fill="#9cc944"/>
<rect x="330" y="170" width="7" height="7" fill="#8dcb4f"/>
<rect x="336" y="170" width="7" height="7" fill="#76cc61"/>
<rect x="342" y="170" width="7" height="7" fill="#66cd6d"/>
<rect x="348" y="170" width="7" height="7" fill="#6acd6a"/>
<rect x="354" y="170" width="7" height="7" fill="#6fcd66"/>
<rect x="360" y="170" width="7" height="7" fill="#6bcd69"/>
<rect x="366" y="170" width="7" height="7" fill="#6ccd69"/>
<rect x="372" y="170" width="7" height="7" fill="#5dcc75"/>
<rect x="378" y="170" width="7" height="7" fill="#3dc991"/>
<rect x="384" y="170" width="7" height="7" fill="#2dc4a6"/>
<rect x="390" y="170" width="7" height="7" fill="#2ac3a9"/>
<rect x="396" y="170" width="7" height="7" fill="#35c79a"/>
<rect x="402" y="170" width="7" height="7" fill="#45cb88"/>
<rect x="408" y="170" width="7" height="7" fill="#57cc7a"/>
<rect x="90" y="176" width="7" height="7" fill="#b7c532"/>
<rect x="96" y="176" width="7" height="7" fill="#b7c532"/>
<rect x="102" y="176" width="7" height="7" fill="#b6c532"/>
<rect x="108" y="176" width="7" height="7" fill="#aac739"/>
<rect x="114" y="176" width="7" height="7" fill="#89cb53"/>
<rect x="120" y="176" width="7" height="7" fill="#5bcc76"/>
<rect x="126" y="176" width="7" height="7" fill="#3bc993"/>
<rect x="132" y="176" width="7" height="7" fill="#2ec5a4"/>
<rect x="138" y="176" width="7" height="7" fill="#25c2ae"/>
<rect x="144" y="176" width="7" height="7" fill="#29c3aa"/>
<rect x="150" y="176" width="7" height="7" fill="#36c898"/>
<rect x="156" y="176" width="7" height="7" fill="#39c895"/>
<rect x="162" y="176" width="7" height="7" fill="#31c6a0"/>
<rect x="168" y="176" width="7" height="7" fill="#28c3aa"/>
<rect x="174" y="176" width="7" height="7" fill="#25c2ad"/>
<rect x="180" y="176" width="7" height="7" fill="#28c3aa"/>
<rect x="186" y="176" width="7" height="7" fill="#2cc4a7"/>
<rect x="192" y="176" width="7" height="7" fill="#2cc4a6"/>
<rect x="198" y="176" width="7" height="7" fill="#28c2ab"/>
<rect x="204" y="176" width="7" height="7" fill="#20c1b1"/>
<rect x="210" y="176" width="7" height="7" fill="#1abfb5"/>
<rect x="216" y="176" width="7" height="7" fill="#17bfb7"/>
<rect x="222" y="176" width="7" height="7" fill="#17bfb6"/>
<rect x="228" y="176" width="7" height="7" fill="#18bfb6"/>
<rect x="234" y="176" width="7" height="7" fill="#1fc0b2"/>
<rect x="240" y="176" width="7" height="7" fill="#25c2ad"/>
<rect x="246" y="176" width="7" height="7" fill="#2cc4a7"/>
<rect x="252" y="176" width="7" height="7" fill="#31c69f"/>
<rect x="258" y="176" width="7" height="7" fill="#35c79b"/>
<rect x="264" y="176" width="7" height="7" fill="#32c69f"/>
<rect x="270" y="176" width="7" height="7" fill="#29c3a9"/>
<rect x="276" y="176" width="7" height="7" fill="#24c1ae"/>
<rect x="282" y="176" width="7" height="7" fill="#33c69e"/>
<rect x="288" y="176" width="7" height="7" fill="#5ecd74"/>
<rect x="294" y="176" width="7" height="7" fill="#47cb87"/>
<rect x="300" y="176" width="7" height="7" fill="#43ca8b"/>
<rect x="306" y="176" width="7" height="7" fill="#4dcb82"/>
<rect x="312" y="176" width="7" height="7" fill="#5bcc77"/>
<rect x="318" y="176" width="7" height="7" fill="#6acd6a"/>
<rect x="324" y="176" width="7" height="7" fill="#76cc60"/>
<rect x="330" y="176" width="7" height="7" fill="#71cd64"/>
<rect x="336" y="176" width="7" height="7" fill="#5ecd74"/>
<rect x="342" y="176" width="7" height="7" fill="#4ecc81"/>
<rect x="348" y="176" width="7" height="7" fill="#4ccb82"/>
<rect x="354" y="176" width="7" height="7" fill="#4ecc81"/>
<rect x="360" y="176" width="7" height="7" fill="#4ccb83"/>
<rect x="366" y="176" width="7" height="7" fill="#4dcc82"/>
<rect x="372" y="176" width="7" height="7" fill="#47cb87"/>
<rect x="378" y="176" width="7" height="7" fill="#34c79c"/>
<rect x="384" y="176" width="7" height="7" fill="#1ec0b2"/>
<rect x="390" y="176" width="7" height="7" fill="#0dbdbb"/>
<rect x="396" y="176" width="7" height="7" fill="#28c3ab"/>
<rect x="402" y="176" width="7" height="7" fill="#40ca8d"/>
<rect x="408" y="176" width="7" height="7" fill="#59cc78"/>
<rect x="414" y="176" width="7" height="7" fill="#61cd72"/>
<rect x="90" y="182" width="7" height="7" fill="#b0c636"/>
<rect x="96" y="182" width="7" height="7" fill="#adc738"/>
<rect x="102" y="182" width="7" height="7" fill="#a5c83d"/>
<rect x="108" y="182" width="7" height="7" fill="#94ca4a"/>
<rect x="114" y="182" width="7" height="7" fill="#74cc62"/>
<rect x="120" y="182" width="7" height="7" fill="#50cc80"/>
<rect x="126" y="182" width="7" height="7" fill="#36c899"/>
<rect x="132" y="182" width="7" height="7" fill="#29c3aa"/>
<rect x="138" y="182" width="7" height="7" fill="#1cc0b4"/>
<rect x="144" y="182" width="7" height="7" fill="#1fc1b1"/>
<rect x="150" y="182" width="7" height="7" fill="#2bc3a8"/>
<rect x="156" y="182" width="7" height="7" fill="#2cc4a7"/>
<rect x="162" y="182" width="7" height="7" fill="#22c1af"/>
<rect x="168" y="182" width="7" height="7" fill="#15bfb7"/>
<rect x="174" y="182" width="7" height="7" fill="#10beba"/>
<rect x="180" y="182" width="7" height="7" fill="#14beb8"/>
<rect x="186" y="182" width="7" height="7" fill="#1abfb5"/>
<rect x="192" y="182" width="7" height="7" fill="#1abfb5"/>
<rect x="198" y="182" width="7" height="7" fill="#10beba"/>
<rect x="204" y="182" width="7" height="7" fill="#08bcbf"/>
<rect x="210" y="182" width="7" height="7" fill="#03bbc2"/>
<rect x="216" y="182" width="7" height="7" fill="#03bbc3"/>
<rect x="222" y="182" width="7" height="7" fill="#06bbc1"/>
<rect x="228" y="182" width="7" height="7" fill="#09bdbe"/>
<rect x="234" y="182" width="7" height="7" fill="#0ebdbb"/>
<rect x="240" y="182" width="7" height="7" fill="#13beb8"/>
<rect x="246" y="182" width="7" height="7" fill="#1cc0b4"/>
<rect x="252" y="182" width="7" height="7" fill="#25c2ae"/>
<rect x="258" y="182" width="7" height="7" fill="#28c3aa"/>
<rect x="264" y="182" width="7" height="7" fill="#23c1af"/>
<rect x="270" y="182" width="7" height="7" fill="#12beb9"/>
<rect x="276" y="182" width="7" height="7" fill="#0abdbd"/>
<rect x="282" y="182" width="7" height="7" fill="#22c1af"/>
<rect x="288" y="182" width="7" height="7" fill="#38c897"/>
<rect x="294" y="182" width="7" height="7" fill="#35c79a"/>
<rect x="300" y="182" width="7" height="7" fill="#30c5a2"/>
<rect x="306" y="182" width="7" height="7" fill="#2fc5a3"/>
<rect x="312" y="182" width="7" height="7" fill="#33c69e"/>
<rect x="318" y="182" width="7" height="7" fill="#3ac993"/>
<rect x="324" y="182" width="7" height="7" fill="#47cb87"/>
<rect x="330" y="182" width="7" height="7" fill="#4fcc81"/>
<rect x="336" y="182" width="7" height="7" fill="#44cb89"/>
<rect x="342" y="182" width="7" height="7" fill="#3ac993"/>
<rect x="348" y="182" width="7" height="7" fill="#37c898"/>
<rect x="354" y="182" width="7" height="7" fill="#37c897"/>
<rect x="360" y="182" width="7" height="7" fill="#39c895"/>
<rect x="366" y="182" width="7" height="7" fill="#39c895"/>
<rect x="372" y="182" width="7" height="7" fill="#36c799"/>
<rect x="378" y="182" width="7" height="7" fill="#2ec5a4"/>
<rect x="384" y="182" width="7" height="7" fill="#24c2ae"/>
<rect x="390" y="182" width="7" height="7" fill="#23c1af"/>
<rect x="396" y="182" width="7" height="7" fill="#32c69e"/>
<rect x="402" y="182" width="7" height="7" fill="#4ccb83"/>
<rect x="408" y="182" width="7" height="7" fill="#63cd6f"/>
<rect x="414" y="182" width="7" height="7" fill="#66cd6d"/>
<rect x="420" y="182" width="7" height="7" fill="#56cc7b"/>
<rect x="426" y="182" width="7" height="7" fill="#3eca8f"/>
<rect x="432" y="182" width="7" height="7" fill="#30c5a1"/>
<rect x="90" y="188" width="7" height="7" fill="#a4c83e"/>
<rect x="96" y="188" width="7" height="7" fill="#9dc943"/>
<rect x="102" y="188" width="7" height="7" fill="#91ca4c"/>
<rect x="108" y="188" width="7" height="7" fill="#7dcc5b"/>
<rect x="114" y="188" width="7" height="7" fill="#61cd71"/>
<rect x="120" y="188" width="7" height="7" fill="#44cb8a"/>
<rect x="126" y="188" width="7" height="7" fill="#32c69f"/>
<rect x="132" y="188" width="7" height="7" fill="#24c2ae"/>
<rect x="138" y="188" width="7" height="7" fill="#16bfb7"/>
<rect x="144" y="188" width="7" height="7" fill="#13beb8"/>
<rect x="150" y="188" width="7" height="7" fill="#15bfb7"/>
<rect x="156" y="188" width="7" height="7" fill="#11beb9"/>
<rect x="162" y="188" width="7" height="7" fill="#07bcc0"/>
<rect x="168" y="188" width="7" height="7" fill="#01bac5"/>
<rect x="174" y="188" width="7" height="7" fill="#01b9c6"/>
<rect x="180" y="188" width="7" height="7" fill="#02bac3"/>
<rect x="186" y="188" width="7" height="7" fill="#03bbc2"/>
<rect x="192" y="188" width="7" height="7" fill="#02bac4"/>
<rect x="198" y="188" width="7" height="7" fill="#01b9c8"/>
<rect x="204" y="188" width="7" height="7" fill="#03b7cc"/>
<rect x="210" y="188" width="7" height="7" fill="#05b6ce"/>
<rect x="216" y="188" width="7" height="7" fill="#03b7cc"/>
<rect x="222" y="188" width="7" height="7" fill="#01b8c8"/>
<rect x="228" y="188" width="7" height="7" fill="#02bac4"/>
<rect x="234" y="188" width="7" height="7" fill="#02bbc3"/>
<rect x="240" y="188" width="7" height="7" fill="#03bbc2"/>
<rect x="246" y="188" width="7" height="7" fill="#07bcc0"/>
<rect x="252" y="188" width="7" height="7" fill="#0ebdbb"/>
<rect x="258" y="188" width="7" height="7" fill="#13beb8"/>
<rect x="264" y="188" width="7" height="7" fill="#0cbdbc"/>
<rect x="270" y="188" width="7" height="7" fill="#02bac4"/>
<rect x="276" y="188" width="7" height="7" fill="#01b9c8"/>
<rect x="282" y="188" width="7" height="7" fill="#07bcbf"/>
<rect x="288" y="188" width="7" height="7" fill="#24c1ae"/>
<rect x="294" y="188" width="7" height="7" fill="#27c2ab"/>
<rect x="300" y="188" width="7" height="7" fill="#20c1b1"/>
<rect x="306" y="188" width="7" height="7" fill="#15bfb7"/>
<rect x="312" y="188" width="7" height="7" fill="#17bfb7"/>
<rect x="318" y="188" width="7" height="7" fill="#20c1b1"/>
<rect x="324" y="188" width="7" height="7" fill="#28c3aa"/>
<rect x="330" y="188" width="7" height="7" fill="#2ec5a4"/>
<rect x="336" y="188" width="7" height="7" fill="#2ec5a3"/>
<rect x="342" y="188" width="7" height="7" fill="#2ac3a9"/>
<rect x="348" y="188" width="7" height="7" fill="#27c2ac"/>
<rect x="354" y="188" width="7" height="7" fill="#28c2ab"/>
<rect x="360" y="188" width="7" height="7" fill="#2ac3a9"/>
<rect x="366" y="188" width="7" height="7" fill="#2bc3a8"/>
<rect x="372" y="188" width="7" height="7" fill="#29c3aa"/>
<rect x="378" y="188" width="7" height="7" fill="#27c2ac"/>
<rect x="384" y="188" width="7" height="7" fill="#2cc4a7"/>
<rect x="390" y="188" width="7" height="7" fill="#3dc990"/>
<rect x="396" y="188" width="7" height="7" fill="#4ecc82"/>
<rect x="402" y="188" width="7" height="7" fill="#59cc78"/>
<rect x="408" y="188" width="7" height="7" fill="#66cd6d"/>
<rect x="414" y="188" width="7" height="7" fill="#61cd71"/>
<rect x="420" y="188" width="7" height="7" fill="#53cc7e"/>
<rect x="426" y="188" width="7" height="7" fill="#37c897"/>
<rect x="432" y="188" width="7" height="7" fill="#2ac3a8"/>
<rect x="438" y="188" width="7" height="7" fill="#15bfb7"/>
<rect x="90" y="194" width="7" height="7" fill="#96ca48"/>
<rect x="96" y="194" width="7" height="7" fill="#8ccb50"/>
<rect x="102" y="194" width="7" height="7" fill="#7dcc5b"/>
<rect x="108" y="194" width="7" height="7" fill="#68cd6b"/>
<rect x="114" y="194" width="7" height="7" fill="#51cc7f"/>
<rect x="120" y="194" width="7" height="7" fill="#3bc993"/>
<rect x="126" y="194" width="7" height="7" fill="#2ec4a4"/>
<rect x="132" y="194" width="7" height="7" fill="#1fc0b2"/>
<rect x="138" y="194" width="7" height="7" fill="#0fbebb"/>
<rect x="144" y="194" width="7" height="7" fill="#07bcc0"/>
<rect x="150" y="194" width="7" height="7" fill="#02bac3"/>
<rect x="156" y="194" width="7" height="7" fill="#01b9c7"/>
<rect x="162" y="194" width="7" height="7" fill="#03b7cc"/>
<rect x="168" y="194" width="7" height="7" fill="#08b5d0"/>
<rect x="174" y="194" width="7" height="7" fill="#05b6ce"/>
<rect x="180" y="194" width="7" height="7" fill="#01b8ca"/>
<rect x="186" y="194" width="7" height="7" fill="#01b8c9"/>
<rect x="192" y="194" width="7" height="7" fill="#05b6ce"/>
<rect x="198" y="194" width="7" height="7" fill="#0ab4d2"/>
<rect x="204" y="194" width="7" height="7" fill="#0fb2d5"/>
<rect x="210" y="194" width="7" height="7" fill="#11b2d5"/>
<rect x="216" y="194" width="7" height="7" fill="#0cb3d3"/>
<rect x="222" y="194" width="7" height="7" fill="#07b5cf"/>
<rect x="228" y="194" width="7" height="7" fill="#05b6cd"/>
<rect x="234" y="194" width="7" height="7" fill="#04b6cc"/>
<rect x="240" y="194" width="7" height="7" fill="#03b6cc"/>
<rect x="246" y="194" width="7" height="7" fill="#02b7cb"/>
<rect x="252" y="194" width="7" height="7" fill="#01b9c8"/>
<rect x="258" y="194" width="7" height="7" fill="#01bac5"/>
<rect x="264" y="194" width="7" height="7" fill="#01b9c8"/>
<rect x="270" y="194" width="7" height="7" fill="#04b6cd"/>
<rect x="276" y="194" width="7" height="7" fill="#05b6ce"/>
<rect x="282" y="194" width="7" height="7" fill="#01b9c6"/>
<rect x="288" y="194" width="7" height="7" fill="#11beba"/>
<rect x="294" y="194" width="7" height="7" fill="#14beb8"/>
<rect x="300" y="194" width="7" height="7" fill="#0dbdbc"/>
<rect x="306" y="194" width="7" height="7" fill="#06bcc0"/>
<rect x="312" y="194" width="7" height="7" fill="#02bac4"/>
<rect x="318" y="194" width="7" height="7" fill="#02bac4"/>
<rect x="324" y="194" width="7" height="7" fill="#02bac4"/>
<rect x="330" y="194" width="7" height="7" fill="#06bcc0"/>
<rect x="336" y="194" width="7" height="7" fill="#0cbdbc"/>
<rect x="342" y="194" width="7" height="7" fill="#0abdbd"/>
<rect x="348" y="194" width="7" height="7" fill="#07bcbf"/>
<rect x="354" y="194" width="7" height="7" fill="#0abdbd"/>
<rect x="360" y="194" width="7" height="7" fill="#0dbdbb"/>
<rect x="366" y="194" width="7" height="7" fill="#0dbdbb"/>
<rect x="372" y="194" width="7" height="7" fill="#0dbdbc"/>
<rect x="378" y="194" width="7" height="7" fill="#0ebdbb"/>
<rect x="384" y="194" width="7" height="7" fill="#1abfb5"/>
<rect x="390" y="194" width="7" height="7" fill="#2fc5a3"/>
<rect x="396" y="194" width="7" height="7" fill="#39c994"/>
<rect x="402" y="194" width="7" height="7" fill="#3ac994"/>
<rect x="408" y="194" width="7" height="7" fill="#3cc992"/>
<rect x="414" y="194" width="7" height="7" fill="#40ca8d"/>
<rect x="420" y="194" width="7" height="7" fill="#49cb85"/>
<rect x="426" y="194" width="7" height="7" fill="#37c897"/>
<rect x="432" y="194" width="7" height="7" fill="#2bc3a8"/>
<rect x="438" y="194" width="7" height="7" fill="#09bdbe"/>
<rect x="90" y="200" width="7" height="7" fill="#86cb55"/>
<rect x="96" y="200" width="7" height="7" fill="#7acc5e"/>
<rect x="102" y="200" width="7" height="7" fill="#6acd6a"/>
<rect x="108" y="200" width="7" height="7" fill="#57cc7a"/>
<rect x="114" y="200" width="7" height="7" fill="#43ca8b"/>
<rect x="120" y="200" width="7" height="7" fill="#34c79b"/>
<rect x="126" y="200" width="7" height="7" fill="#29c3aa"/>
<rect x="132" y="200" width="7" height="7" fill="#19bfb5"/>
<rect x="138" y="200" width="7" height="7" fill="#08bcbe"/>
<rect x="144" y="200" width="7" height="7" fill="#01bac5"/>
<rect x="150" y="200" width="7" height="7" fill="#01b8ca"/>
<rect x="156" y="200" width="7" height="7" fill="#06b6ce"/>
<rect x="162" y="200" width="7" height="7" fill="#0ab4d2"/>
<rect x="168" y="200" width="7" height="7" fill="#0cb3d3"/>
<rect x="174" y="200" width="7" height="7" fill="#07b5d0"/>
<rect x="180" y="200" width="7" height="7" fill="#02b7ca"/>
<rect x="186" y="200" width="7" height="7" fill="#01b9c8"/>
<rect x="192" y="200" width="7" height="7" fill="#04b6cd"/>
<rect x="198" y="200" width="7" height="7" fill="#12b1d7"/>
<rect x="204" y="200" width="7" height="7" fill="#16aeda"/>
<rect x="210" y="200" width="7" height="7" fill="#16afd9"/>
<rect x="216" y="200" width="7" height="7" fill="#12b1d6"/>
<rect x="222" y="200" width="7" height="7" fill="#0fb2d5"/>
<rect x="228" y="200" width="7" height="7" fill="#0fb2d5"/>
<rect x="234" y="200" width="7" height="7" fill="#0eb2d4"/>
<rect x="240" y="200" width="7" height="7" fill="#0eb2d4"/>
<rect x="246" y="200" width="7" height="7" fill="#0eb2d4"/>
<rect x="252" y="200" width="7" height="7" fill="#0cb3d3"/>
<rect x="258" y="200" width="7" height="7" fill="#0bb4d2"/>
<rect x="264" y="200" width="7" height="7" fill="#0cb3d3"/>
<rect x="270" y="200" width="7" height="7" fill="#10b2d5"/>
<rect x="276" y="200" width="7" height="7" fill="#0fb2d4"/>
<rect x="282" y="200" width="7" height="7" fill="#06b5ce"/>
<rect x="288" y="200" width="7" height="7" fill="#01b9c7"/>
<rect x="294" y="200" width="7" height="7" fill="#02bac5"/>
<rect x="300" y="200" width="7" height="7" fill="#01b9c6"/>
<rect x="306" y="200" width="7" height="7" fill="#01b8c9"/>
<rect x="312" y="200" width="7" height="7" fill="#04b6cd"/>
<rect x="318" y="200" width="7" height="7" fill="#07b5d0"/>
<rect x="324" y="200" width="7" height="7" fill="#09b4d1"/>
<rect x="330" y="200" width="7" height="7" fill="#07b5cf"/>
<rect x="336" y="200" width="7" height="7" fill="#04b6cc"/>
<rect x="342" y="200" width="7" height="7" fill="#03b6cc"/>
<rect x="348" y="200" width="7" height="7" fill="#04b6cd"/>
<rect x="354" y="200" width="7" height="7" fill="#02b7cb"/>
<rect x="360" y="200" width="7" height="7" fill="#01b8ca"/>
<rect x="366" y="200" width="7" height="7" fill="#02b7cb"/>
<rect x="372" y="200" width="7" height="7" fill="#03b7cc"/>
<rect x="378" y="200" width="7" height="7" fill="#03b6cc"/>
<rect x="384" y="200" width="7" height="7" fill="#01b8ca"/>
<rect x="390" y="200" width="7" height="7" fill="#0abdbd"/>
<rect x="396" y="200" width="7" height="7" fill="#21c1b0"/>
<rect x="402" y="200" width="7" height="7" fill="#1ac0b5"/>
<rect x="408" y="200" width="7" height="7" fill="#0cbdbc"/>
<rect x="414" y="200" width="7" height="7" fill="#23c1af"/>
<rect x="420" y="200" width="7" height="7" fill="#31c6a0"/>
<rect x="426" y="200" width="7" height="7" fill="#36c899"/>
<rect x="432" y="200" width="7" height="7" fill="#24c1ae"/>
<rect x="438" y="200" width="7" height="7" fill="#02b7cb"/>
<rect x="444" y="200" width="7" height="7" fill="#1baade"/>
<rect x="90" y="206" width="7" height="7" fill="#76cc61"/>
<rect x="96" y="206" width="7" height="7" fill="#68cd6b"/>
<rect x="102" y="206" width="7" height="7" fill="#5acc78"/>
<rect x="108" y="206" width="7" height="7" fill="#48cb86"/>
<rect x="114" y="206" width="7" height="7" fill="#39c994"/>
<rect x="120" y="206" width="7" height="7" fill="#2fc5a2"/>
<rect x="126" y="206" width="7" height="7" fill="#24c1ae"/>
<rect x="132" y="206" width="7" height="7" fill="#12beb9"/>
<rect x="138" y="206" width="7" height="7" fill="#04bbc2"/>
<rect x="144" y="206" width="7" height="7" fill="#01b8c9"/>
<rect x="150" y="206" width="7" height="7" fill="#05b6ce"/>
<rect x="156" y="206" width="7" height="7" fill="#0ab4d2"/>
<rect x="162" y="206" width="7" height="7" fill="#0eb2d4"/>
<rect x="168" y="206" width="7" height="7" fill="#0eb3d4"/>
<rect x="174" y="206" width="7" height="7" fill="#09b4d1"/>
<rect x="180" y="206" width="7" height="7" fill="#04b6cc"/>
<rect x="186" y="206" width="7" height="7" fill="#01b8ca"/>
<rect x="192" y="206" width="7" height="7" fill="#07b5d0"/>
<rect x="198" y="206" width="7" height="7" fill="#17aeda"/>
<rect x="204" y="206" width="7" height="7" fill="#1aabdd"/>
<rect x="210" y="206" width="7" height="7" fill="#1aacdd"/>
<rect x="216" y="206" width="7" height="7" fill="#18aedb"/>
<rect x="222" y="206" width="7" height="7" fill="#17aeda"/>
<rect x="228" y="206" width="7" height="7" fill="#18aedb"/>
<rect x="234" y="206" width="7" height="7" fill="#18aedb"/>
<rect x="240" y="206" width="7" height="7" fill="#18addb"/>
<rect x="246" y="206" width="7" height="7" fill="#18addb"/>
<rect x="252" y="206" width="7" height="7" fill="#19addc"/>
<rect x="258" y="206" width="7" height="7" fill="#19addc"/>
<rect x="264" y="206" width="7" height="7" fill="#19addc"/>
<rect x="270" y="206" width="7" height="7" fill="#19addc"/>
<rect x="276" y="206" width="7" height="7" fill="#18addb"/>
<rect x="282" y="206" width="7" height="7" fill="#13b0d8"/>
<rect x="288" y="206" width="7" height="7" fill="#0db3d3"/>
<rect x="294" y="206" width="7" height="7" fill="#0ab4d2"/>
<rect x="300" y="206" width="7" height="7" fill="#0bb3d2"/>
<rect x="306" y="206" width="7" height="7" fill="#0fb2d5"/>
<rect x="312" y="206" width="7" height="7" fill="#12b1d6"/>
<rect x="318" y="206" width="7" height="7" fill="#13b1d7"/>
<rect x="324" y="206" width="7" height="7" fill="#11b1d6"/>
<rect x="330" y="206" width="7" height="7" fill="#10b2d5"/>
<rect x="336" y="206" width="7" height="7" fill="#11b2d5"/>
<rect x="342" y="206" width="7" height="7" fill="#10b2d5"/>
<rect x="348" y="206" width="7" height="7" fill="#10b2d5"/>
<rect x="354" y="206" width="7" height="7" fill="#10b2d5"/>
<rect x="360" y="206" width="7" height="7" fill="#0fb2d5"/>
<rect x="366" y="206" width="7" height="7" fill="#10b2d5"/>
<rect x="372" y="206" width="7" height="7" fill="#13b1d7"/>
<rect x="378" y="206" width="7" height="7" fill="#15afd9"/>
<rect x="384" y="206" width="7" height="7" fill="#14b0d8"/>
<rect x="390" y="206" width="7" height="7" fill="#06b5cf"/>
<rect x="396" y="206" width="7" height="7" fill="#05bbc1"/>
<rect x="402" y="206" width="7" height="7" fill="#03bbc3"/>
<rect x="408" y="206" width="7" height="7" fill="#02bac5"/>
<rect x="414" y="206" width="7" height="7" fill="#04bbc1"/>
<rect x="420" y="206" width="7" height="7" fill="#0bbdbc"/>
<rect x="426" y="206" width="7" height="7" fill="#0bbdbc"/>
<rect x="432" y="206" width="7" height="7" fill="#04b6cc"/>
<rect x="438" y="206" width="7" height="7" fill="#1caadf"/>
<rect x="444" y="206" width="7" height="7" fill="#269ae8"/>
<rect x="90" y="212" width="7" height="7" fill="#66cd6d"/>
<rect x="96" y="212" width="7" height="7" fill="#59cc78"/>
<rect x="102" y="212" width="7" height="7" fill="#4bcb84"/>
<rect x="108" y="212" width="7" height="7" fill="#3dc990"/>
<rect x="114" y="212" width="7" height="7" fill="#33c79c"/>
<rect x="120" y="212" width="7" height="7" fill="#2bc3a8"/>
<rect x="126" y="212" width="7" height="7" fill="#1dc0b3"/>
<rect x="132" y="212" width="7" height="7" fill="#0bbdbd"/>
<rect x="138" y="212" width="7" height="7" fill="#02bac5"/>
<rect x="144" y="212" width="7" height="7" fill="#02b7cb"/>
<rect x="150" y="212" width="7" height="7" fill="#07b5d0"/>
<rect x="156" y="212" width="7" height="7" fill="#0db3d3"/>
<rect x="162" y="212" width="7" height="7" fill="#0fb2d5"/>
<rect x="168" y="212" width="7" height="7" fill="#0fb2d5"/>
<rect x="174" y="212" width="7" height="7" fill="#0db3d3"/>
<rect x="180" y="212" width="7" height="7" fill="#0ab4d2"/>
<rect x="186" y="212" width="7" height="7" fill="#0cb3d3"/>
<rect x="192" y="212" width="7" height="7" fill="#14b0d8"/>
<rect x="198" y="212" width="7" height="7" fill="#1babde"/>
<rect x="204" y="212" width="7" height="7" fill="#1ea8e1"/>
<rect x="210" y="212" width="7" height="7" fill="#1ea7e1"/>
<rect x="216" y="212" width="7" height="7" fill="#1da8e0"/>
<rect x="222" y="212" width="7" height="7" fill="#1da8e0"/>
<rect x="228" y="212" width="7" height="7" fill="#1da8e0"/>
<rect x="234" y="212" width="7" height="7" fill="#1da8e0"/>
<rect x="240" y="212" width="7" height="7" fill="#1da8e0"/>
<rect x="246" y="212" width="7" height="7" fill="#1ea7e1"/>
<rect x="252" y="212" width="7" height="7" fill="#1ea7e1"/>
<rect x="258" y="212" width="7" height="7" fill="#1ea7e1"/>
<rect x="264" y="212" width="7" height="7" fill="#1ea7e1"/>
<rect x="270" y="212" width="7" height="7" fill="#1ea7e1"/>
<rect x="276" y="212" width="7" height="7" fill="#1da8e0"/>
<rect x="282" y="212" width="7" height="7" fill="#1caadf"/>
<rect x="288" y="212" width="7" height="7" fill="#1aacdd"/>
<rect x="294" y="212" width="7" height="7" fill="#19addc"/>
<rect x="300" y="212" width="7" height="7" fill="#19acdc"/>
<rect x="306" y="212" width="7" height="7" fill="#1aabdd"/>
<rect x="312" y="212" width="7" height="7" fill="#1babde"/>
<rect x="318" y="212" width="7" height="7" fill="#1babde"/>
<rect x="324" y="212" width="7" height="7" fill="#1aacdd"/>
<rect x="330" y="212" width="7" height="7" fill="#1aacdd"/>
<rect x="336" y="212" width="7" height="7" fill="#1aacdd"/>
<rect x="342" y="212" width="7" height="7" fill="#1aacdd"/>
<rect x="348" y="212" width="7" height="7" fill="#1aacdd"/>
<rect x="354" y="212" width="7" height="7" fill="#1aacdd"/>
<rect x="360" y="212" width="7" height="7" fill="#1aacdd"/>
<rect x="366" y="212" width="7" height="7" fill="#1aabdd"/>
<rect x="372" y="212" width="7" height="7" fill="#1baade"/>
<rect x="378" y="212" width="7" height="7" fill="#1da9e0"/>
<rect x="384" y="212" width="7" height="7" fill="#1caadf"/>
<rect x="390" y="212" width="7" height="7" fill="#18addb"/>
<rect x="396" y="212" width="7" height="7" fill="#12b1d6"/>
<rect x="402" y="212" width="7" height="7" fill="#10b2d5"/>
<rect x="408" y="212" width="7" height="7" fill="#0bb3d2"/>
<rect x="414" y="212" width="7" height="7" fill="#05b6cd"/>
<rect x="420" y="212" width="7" height="7" fill="#03b7cc"/>
<rect x="426" y="212" width="7" height="7" fill="#10b2d5"/>
<rect x="432" y="212" width="7" height="7" fill="#20a5e3"/>
<rect x="438" y="212" width="7" height="7" fill="#2995ec"/>
<rect x="444" y="212" width="7" height="7" fill="#2e86f7"/>
<rect x="90" y="218" width="7" height="7" fill="#58cc79"/>
<rect x="96" y="218" width="7" height="7" fill="#4ccb83"/>
<rect x="102" y="218" width="7" height="7" fill="#3fca8e"/>
<rect x="108" y="218" width="7" height="7" fill="#36c899"/>
<rect x="114" y="218" width="7" height="7" fill="#2ec5a4"/>
<rect x="120" y="218" width="7" height="7" fill="#25c2ae"/>
<rect x="126" y="218" width="7" height="7" fill="#16bfb7"/>
<rect x="132" y="218" width="7" height="7" fill="#07bcc0"/>
<rect x="138" y="218" width="7" height="7" fill="#01b9c7"/>
<rect x="144" y="218" width="7" height="7" fill="#04b6cd"/>
<rect x="150" y="218" width="7" height="7" fill="#0ab4d1"/>
<rect x="156" y="218" width="7" height="7" fill="#0fb2d4"/>
<rect x="162" y="218" width="7" height="7" fill="#11b1d6"/>
<rect x="168" y="218" width="7" height="7" fill="#12b1d6"/>
<rect x="174" y="218" width="7" height="7" fill="#12b1d6"/>
<rect x="180" y="218" width="7" height="7" fill="#12b1d7"/>
<rect x="186" y="218" width="7" height="7" fill="#16afd9"/>
<rect x="192" y="218" width="7" height="7" fill="#1babde"/>
<rect x="198" y="218" width="7" height="7" fill="#1ea6e1"/>
<rect x="204" y="218" width="7" height="7" fill="#21a3e3"/>
<rect x="210" y="218" width="7" height="7" fill="#22a1e4"/>
<rect x="216" y="218" width="7" height="7" fill="#22a1e4"/>
<rect x="222" y="218" width="7" height="7" fill="#22a2e4"/>
<rect x="228" y="218" width="7" height="7" fill="#22a2e4"/>
<rect x="234" y="218" width="7" height="7" fill="#22a2e4"/>
<rect x="240" y="218" width="7" height="7" fill="#22a2e4"/>
<rect x="246" y="218" width="7" height="7" fill="#22a2e4"/>
<rect x="252" y="218" width="7" height="7" fill="#22a2e4"/>
<rect x="258" y="218" width="7" height="7" fill="#22a2e4"/>
<rect x="264" y="218" width="7" height="7" fill="#22a2e4"/>
<rect x="270" y="218" width="7" height="7" fill="#22a2e4"/>
<rect x="276" y="218" width="7" height="7" fill="#21a3e3"/>
<rect x="282" y="218" width="7" height="7" fill="#20a4e3"/>
<rect x="288" y="218" width="7" height="7" fill="#20a5e3"/>
<rect x="294" y="218" width="7" height="7" fill="#20a5e2"/>
<rect x="300" y="218" width="7" height="7" fill="#20a5e3"/>
<rect x="306" y="218" width="7" height="7" fill="#20a4e3"/>
<rect x="312" y="218" width="7" height="7" fill="#21a3e3"/>
<rect x="318" y="218" width="7" height="7" fill="#21a3e3"/>
<rect x="324" y="218" width="7" height="7" fill="#20a4e3"/>
<rect x="330" y="218" width="7" height="7" fill="#20a4e3"/>
<rect x="336" y="218" width="7" height="7" fill="#20a4e3"/>
<rect x="342" y="218" width="7" height="7" fill="#20a4e3"/>
<rect x="348" y="218" width="7" height="7" fill="#20a4e3"/>
<rect x="354" y="218" width="7" height="7" fill="#21a4e3"/>
<rect x="360" y="218" width="7" height="7" fill="#20a4e3"/>
<rect x="366" y="218" width="7" height="7" fill="#20a4e3"/>
<rect x="372" y="218" width="7" height="7" fill="#21a3e3"/>
<rect x="378" y="218" width="7" height="7" fill="#22a2e4"/>
<rect x="384" y="218" width="7" height="7" fill="#21a3e3"/>
<rect x="390" y="218" width="7" height="7" fill="#20a5e3"/>
<rect x="396" y="218" width="7" height="7" fill="#20a5e3"/>
<rect x="402" y="218" width="7" height="7" fill="#20a4e3"/>
<rect x="408" y="218" width="7" height="7" fill="#1caadf"/>
<rect x="414" y="218" width="7" height="7" fill="#15afd9"/>
<rect x="420" y="218" width="7" height="7" fill="#13b0d7"/>
<rect x="426" y="218" width="7" height="7" fill="#1fa5e2"/>
<rect x="432" y="218" width="7" height="7" fill="#2b92ee"/>
<rect x="438" y="218" width="7" height="7" fill="#307ffb"/>
<rect x="444" y="218" width="7" height="7" fill="#3d70ff"/>
<rect x="90" y="224" width="7" height="7" fill="#4bcb84"/>
<rect x="96" y="224" width="7" height="7" fill="#40ca8d"/>
<rect x="102" y="224" width="7" height="7" fill="#37c897"/>
<rect x="108" y="224" width="7" height="7" fill="#31c6a0"/>
<rect x="114" y="224" width="7" height="7" fill="#29c3aa"/>
<rect x="120" y="224" width="7" height="7" fill="#1dc0b3"/>
<rect x="126" y="224" width="7" height="7" fill="#0ebdbb"/>
<rect x="132" y="224" width="7" height="7" fill="#02bbc3"/>
<rect x="138" y="224" width="7" height="7" fill="#01b8ca"/>
<rect x="144" y="224" width="7" height="7" fill="#06b5cf"/>
<rect x="150" y="224" width="7" height="7" fill="#0cb3d3"/>
<rect x="156" y="224" width="7" height="7" fill="#11b1d6"/>
<rect x="162" y="224" width="7" height="7" fill="#13b0d7"/>
<rect x="168" y="224" width="7" height="7" fill="#14b0d8"/>
<rect x="174" y="224" width="7" height="7" fill="#15afd8"/>
<rect x="180" y="224" width="7" height="7" fill="#16afda"/>
<rect x="186" y="224" width="7" height="7" fill="#19addc"/>
<rect x="192" y="224" width="7" height="7" fill="#1da9e0"/>
<rect x="198" y="224" width="7" height="7" fill="#21a3e3"/>
<rect x="204" y="224" width="7" height="7" fill="#249ee6"/>
<rect x="210" y="224" width="7" height="7" fill="#259ce7"/>
<rect x="216" y="224" width="7" height="7" fill="#259ce7"/>
<rect x="222" y="224" width="7" height="7" fill="#259ce7"/>
<rect x="228" y="224" width="7" height="7" fill="#259de7"/>
<rect x="234" y="224" width="7" height="7" fill="#249de7"/>
<rect x="240" y="224" width="7" height="7" fill="#249de7"/>
<rect x="246" y="224" width="7" height="7" fill="#259de7"/>
<rect x="252" y="224" width="7" height="7" fill="#259de7"/>
<rect x="258" y="224" width="7" height="7" fill="#259de7"/>
<rect x="264" y="224" width="7" height="7" fill="#259de7"/>
<rect x="270" y="224" width="7" height="7" fill="#249de7"/>
<rect x="276" y="224" width="7" height="7" fill="#249de6"/>
<rect x="282" y="224" width="7" height="7" fill="#249ee6"/>
<rect x="288" y="224" width="7" height="7" fill="#249ee6"/>
<rect x="294" y="224" width="7" height="7" fill="#249de6"/>
<rect x="300" y="224" width="7" height="7" fill="#259de7"/>
<rect x="306" y="224" width="7" height="7" fill="#259ce7"/>
<rect x="312" y="224" width="7" height="7" fill="#259be8"/>
<rect x="318" y="224" width="7" height="7" fill="#269be8"/>
<rect x="324" y="224" width="7" height="7" fill="#269be8"/>
<rect x="330" y="224" width="7" height="7" fill="#269be8"/>
<rect x="336" y="224" width="7" height="7" fill="#259be8"/>
<rect x="342" y="224" width="7" height="7" fill="#259be8"/>
<rect x="348" y="224" width="7" height="7" fill="#259be8"/>
<rect x="354" y="224" width="7" height="7" fill="#269ae8"/>
<rect x="360" y="224" width="7" height="7" fill="#259be8"/>
<rect x="366" y="224" width="7" height="7" fill="#259be8"/>
<rect x="372" y="224" width="7" height="7" fill="#269be8"/>
<rect x="378" y="224" width="7" height="7" fill="#269be8"/>
<rect x="384" y="224" width="7" height="7" fill="#259be7"/>
<rect x="390" y="224" width="7" height="7" fill="#259ce7"/>
<rect x="396" y="224" width="7" height="7" fill="#259be8"/>
<rect x="402" y="224" width="7" height="7" fill="#259be8"/>
<rect x="408" y="224" width="7" height="7" fill="#23a0e5"/>
<rect x="414" y="224" width="7" height="7" fill="#20a5e2"/>
<rect x="420" y="224" width="7" height="7" fill="#20a4e3"/>
<rect x="426" y="224" width="7" height="7" fill="#2798ea"/>
<rect x="432" y="224" width="7" height="7" fill="#2e83f9"/>
<rect x="438" y="224" width="7" height="7" fill="#3f6eff"/>
<rect x="444" y="224" width="7" height="7" fill="#465ffb"/>
<rect x="90" y="230" width="7" height="7" fill="#40ca8d"/>
<rect x="96" y="230" width="7" height="7" fill="#38c896"/>
<rect x="102" y="230" width="7" height="7" fill="#32c69f"/>
<rect x="108" y="230" width="7" height="7" fill="#2cc4a7"/>
<rect x="114" y="230" width="7" height="7" fill="#22c1af"/>
<rect x="120" y="230" width="7" height="7" fill="#15bfb7"/>
<rect x="126" y="230" width="7" height="7" fill="#07bcbf"/>
<rect x="132" y="230" width="7" height="7" fill="#01b9c6"/>
<rect x="138" y="230" width="7" height="7" fill="#03b7cc"/>
<rect x="144" y="230" width="7" height="7" fill="#09b4d1"/>
<rect x="150" y="230" width="7" height="7" fill="#0fb2d5"/>
<rect x="156" y="230" width="7" height="7" fill="#13b0d7"/>
<rect x="162" y="230" width="7" height="7" fill="#15afd9"/>
<rect x="168" y="230" width="7" height="7" fill="#17aeda"/>
<rect x="174" y="230" width="7" height="7" fill="#18aedb"/>
<rect x="180" y="230" width="7" height="7" fill="#19acdc"/>
<rect x="186" y="230" width="7" height="7" fill="#1baade"/>
<rect x="192" y="230" width="7" height="7" fill="#1fa6e2"/>
<rect x="198" y="230" width="7" height="7" fill="#23a0e5"/>
<rect x="204" y="230" width="7" height="7" fill="#269be8"/>
<rect x="210" y="230" width="7" height="7" fill="#2798ea"/>
<rect x="216" y="230" width="7" height="7" fill="#2797eb"/>
<rect x="222" y="230" width="7" height="7" fill="#2798ea"/>
<rect x="228" y="230" width="7" height="7" fill="#2698ea"/>
<rect x="234" y="230" width="7" height="7" fill="#2699ea"/>
<rect x="240" y="230" width="7" height="7" fill="#2699ea"/>
<rect x="246" y="230" width="7" height="7" fill="#2698ea"/>
<rect x="252" y="230" width="7" height="7" fill="#2798ea"/>
<rect x="258" y="230" width="7" height="7" fill="#2798ea"/>
<rect x="264" y="230" width="7" height="7" fill="#2798ea"/>
<rect x="270" y="230" width="7" height="7" fill="#2698ea"/>
<rect x="276" y="230" width="7" height="7" fill="#2698ea"/>
<rect x="282" y="230" width="7" height="7" fill="#2798ea"/>
<rect x="288" y="230" width="7" height="7" fill="#2797ea"/>
<rect x="294" y="230" width="7" height="7" fill="#2796eb"/>
<rect x="300" y="230" width="7" height="7" fill="#2995ec"/>
<rect x="306" y="230" width="7" height="7" fill="#2a93ed"/>
<rect x="312" y="230" width="7" height="7" fill="#2b92ee"/>
<rect x="318" y="230" width="7" height="7" fill="#2b91ef"/>
<rect x="324" y="230" width="7" height="7" fill="#2b91ef"/>
<rect x="330" y="230" width="7" height="7" fill="#2b92ef"/>
<rect x="336" y="230" width="7" height="7" fill="#2a93ee"/>
<rect x="342" y="230" width="7" height="7" fill="#2a93ed"/>
<rect x="348" y="230" width="7" height="7" fill="#2a92ee"/>
<rect x="354" y="230" width="7" height="7" fill="#2b92ee"/>
<rect x="360" y="230" width="7" height="7" fill="#2a92ee"/>
<rect x="366" y="230" width="7" height="7" fill="#2a93ee"/>
<rect x="372" y="230" width="7" height="7" fill="#2b92ee"/>
<rect x="378" y="230" width="7" height="7" fill="#2b92ee"/>
<rect x="384" y="230" width="7" height="7" fill="#2b92ee"/>
<rect x="390" y="230" width="7" height="7" fill="#2a92ee"/>
<rect x="396" y="230" width="7" height="7" fill="#2b90ef"/>
<rect x="402" y="230" width="7" height="7" fill="#2c90f0"/>
<rect x="408" y="230" width="7" height="7" fill="#2a93ee"/>
<rect x="414" y="230" width="7" height="7" fill="#2796eb"/>
<rect x="420" y="230" width="7" height="7" fill="#2895ec"/>
<rect x="426" y="230" width="7" height="7" fill="#2d89f5"/>
<rect x="432" y="230" width="7" height="7" fill="#3875fe"/>
<rect x="438" y="230" width="7" height="7" fill="#4561fc"/>
<rect x="444" y="230" width="7" height="7" fill="#4852f4"/>
<rect x="90" y="236" width="7" height="7" fill="#38c896"/>
<rect x="96" y="236" width="7" height="7" fill="#32c69e"/>
<rect x="102" y="236" width="7" height="7" fill="#2dc4a6"/>
<rect x="108" y="236" width="7" height="7" fill="#25c2ad"/>
<rect x="114" y="236" width="7" height="7" fill="#1abfb5"/>
<rect x="120" y="236" width="7" height="7" fill="#0cbdbc"/>
<rect x="126" y="236" width="7" height="7" fill="#02bbc3"/>
<rect x="132" y="236" width="7" height="7" fill="#01b8c9"/>
<rect x="138" y="236" width="7" height="7" fill="#06b5cf"/>
<rect x="144" y="236" width="7" height="7" fill="#0db3d3"/>
<rect x="150" y="236" width="7" height="7" fill="#12b1d7"/>
<rect x="156" y="236" width="7" height="7" fill="#15afd9"/>
<rect x="162" y="236" width="7" height="7" fill="#18aedb"/>
<rect x="168" y="236" width="7" height="7" fill="#19acdc"/>
<rect x="174" y="236" width="7" height="7" fill="#1aabdd"/>
<rect x="180" y="236" width="7" height="7" fill="#1caadf"/>
<rect x="186" y="236" width="7" height="7" fill="#1ea7e1"/>
<rect x="192" y="236" width="7" height="7" fill="#21a3e4"/>
<rect x="198" y="236" width="7" height="7" fill="#249de6"/>
<rect x="204" y="236" width="7" height="7" fill="#2798ea"/>
<rect x="210" y="236" width="7" height="7" fill="#2994ed"/>
<rect x="216" y="236" width="7" height="7" fill="#2a93ee"/>
<rect x="222" y="236" width="7" height="7" fill="#2a93ed"/>
<rect x="228" y="236" width="7" height="7" fill="#2994ed"/>
<rect x="234" y="236" width="7" height="7" fill="#2994ed"/>
<rect x="240" y="236" width="7" height="7" fill="#2994ed"/>
<rect x="246" y="236" width="7" height="7" fill="#2994ed"/>
<rect x="252" y="236" width="7" height="7" fill="#2994ed"/>
<rect x="258" y="236" width="7" height="7" fill="#2994ed"/>
<rect x="264" y="236" width="7" height="7" fill="#2994ed"/>
<rect x="270" y="236" width="7" height="7" fill="#2994ed"/>
<rect x="276" y="236" width="7" height="7" fill="#2994ed"/>
<rect x="282" y="236" width="7" height="7" fill="#2a93ee"/>
<rect x="288" y="236" width="7" height="7" fill="#2b91ef"/>
<rect x="294" y="236" width="7" height="7" fill="#2c8ff0"/>
<rect x="300" y="236" width="7" height="7" fill="#2d8df2"/>
<rect x="306" y="236" width="7" height="7" fill="#2d8af4"/>
<rect x="312" y="236" width="7" height="7" fill="#2d88f6"/>
<rect x="318" y="236" width="7" height="7" fill="#2d87f6"/>
<rect x="324" y="236" width="7" height="7" fill="#2d88f6"/>
<rect x="330" y="236" width="7" height="7" fill="#2d8bf4"/>
<rect x="336" y="236" width="7" height="7" fill="#2d8df2"/>
<rect x="342" y="236" width="7" height="7" fill="#2c8ef1"/>
<rect x="348" y="236" width="7" height="7" fill="#2d8df2"/>
<rect x="354" y="236" width="7" height="7" fill="#2d8cf3"/>
<rect x="360" y="236" width="7" height="7" fill="#2d8cf3"/>
<rect x="366" y="236" width="7" height="7" fill="#2d8cf3"/>
<rect x="372" y="236" width="7" height="7" fill="#2d8bf4"/>
<rect x="378" y="236" width="7" height="7" fill="#2d89f5"/>
<rect x="384" y="236" width="7" height="7" fill="#2e85f8"/>
<rect x="390" y="236" width="7" height="7" fill="#2f82fa"/>
<rect x="396" y="236" width="7" height="7" fill="#307ffb"/>
<rect x="402" y="236" width="7" height="7" fill="#317dfc"/>
<rect x="408" y="236" width="7" height="7" fill="#307ffb"/>
<rect x="414" y="236" width="7" height="7" fill="#2e83f9"/>
<rect x="420" y="236" width="7" height="7" fill="#2f82f9"/>
<rect x="426" y="236" width="7" height="7" fill="#3678fd"/>
<rect x="432" y="236" width="7" height="7" fill="#4367fd"/>
<rect x="438" y="236" width="7" height="7" fill="#4755f6"/>
<rect x="444" y="236" width="7" height="7" fill="#4746ea"/>
<rect x="90" y="242" width="7" height="7" fill="#32c69e"/>
<rect x="96" y="242" width="7" height="7" fill="#2dc4a5"/>
<rect x="102" y="242" width="7" height="7" fill="#27c2ac"/>
<rect x="108" y="242" width="7" height="7" fill="#1dc0b3"/>
<rect x="114" y="242" width="7" height="7" fill="#10beba"/>
<rect x="120" y="242" width="7" height="7" fill="#05bbc1"/>
<rect x="126" y="242" width="7" height="7" fill="#01b9c7"/>
<rect x="132" y="242" width="7" height="7" fill="#04b6cd"/>
<rect x="138" y="242" width="7" height="7" fill="#0ab4d2"/>
<rect x="144" y="242" width="7" height="7" fill="#11b1d6"/>
<rect x="150" y="242" width="7" height="7" fill="#15afd9"/>
<rect x="156" y="242" width="7" height="7" fill="#19addb"/>
<rect x="162" y="242" width="7" height="7" fill="#1aabdd"/>
<rect x="168" y="242" width="7" height="7" fill="#1caadf"/>
<rect x="174" y="242" width="7" height="7" fill="#1da8e0"/>
<rect x="180" y="242" width="7" height="7" fill="#1ea7e1"/>
<rect x="186" y="242" width="7" height="7" fill="#21a4e3"/>
<rect x="192" y="242" width="7" height="7" fill="#23a0e5"/>
<rect x="198" y="242" width="7" height="7" fill="#259be8"/>
<rect x="204" y="242" width="7" height="7" fill="#2896ec"/>
<rect x="210" y="242" width="7" height="7" fill="#2b92ef"/>
<rect x="216" y="242" width="7" height="7" fill="#2c90f0"/>
<rect x="222" y="242" width="7" height="7" fill="#2c8ff0"/>
<rect x="228" y="242" width="7" height="7" fill="#2c90f0"/>
<rect x="234" y="242" width="7" height="7" fill="#2b90f0"/>
<rect x="240" y="242" width="7" height="7" fill="#2b90ef"/>
<rect x="246" y="242" width="7" height="7" fill="#2b90f0"/>
<rect x="252" y="242" width="7" height="7" fill="#2b90f0"/>
<rect x="258" y="242" width="7" height="7" fill="#2b90ef"/>
<rect x="264" y="242" width="7" height="7" fill="#2b90ef"/>
<rect x="270" y="242" width="7" height="7" fill="#2b90ef"/>
<rect x="276" y="242" width="7" height="7" fill="#2c90f0"/>
<rect x="282" y="242" width="7" height="7" fill="#2c8ef1"/>
<rect x="288" y="242" width="7" height="7" fill="#2d8cf3"/>
<rect x="294" y="242" width="7" height="7" fill="#2d89f5"/>
<rect x="300" y="242" width="7" height="7" fill="#2e86f8"/>
<rect x="306" y="242" width="7" height="7" fill="#2f82f9"/>
<rect x="312" y="242" width="7" height="7" fill="#307ffb"/>
<rect x="318" y="242" width="7" height="7" fill="#317efb"/>
<rect x="324" y="242" width="7" height="7" fill="#2f81fa"/>
<rect x="330" y="242" width="7" height="7" fill="#2e85f8"/>
<rect x="336" y="242" width="7" height="7" fill="#2d89f5"/>
<rect x="342" y="242" width="7" height="7" fill="#2d8af5"/>
<rect x="348" y="242" width="7" height="7" fill="#2d89f5"/>
<rect x="354" y="242" width="7" height="7" fill="#2d88f6"/>
<rect x="360" y="242" width="7" height="7" fill="#2d88f6"/>
<rect x="366" y="242" width="7" height="7" fill="#2e87f7"/>
<rect x="372" y="242" width="7" height="7" fill="#2e86f7"/>
<rect x="378" y="242" width="7" height="7" fill="#2e83f9"/>
<rect x="384" y="242" width="7" height="7" fill="#3579fd"/>
<rect x="390" y="242" width="7" height="7" fill="#3e6fff"/>
<rect x="396" y="242" width="7" height="7" fill="#406cfe"/>
<rect x="402" y="242" width="7" height="7" fill="#4269fe"/>
<rect x="408" y="242" width="7" height="7" fill="#4269fe"/>
<rect x="414" y="242" width="7" height="7" fill="#3e6fff"/>
<rect x="420" y="242" width="7" height="7" fill="#3d70ff"/>
<rect x="426" y="242" width="7" height="7" fill="#4368fe"/>
<rect x="432" y="242" width="7" height="7" fill="#4759f9"/>
<rect x="438" y="242" width="7" height="7" fill="#4849ed"/>
<rect x="444" y="242" width="7" height="7" fill="#463bdd"/>
<rect x="90" y="248" width="7" height="7" fill="#2dc4a5"/>
<rect x="96" y="248" width="7" height="7" fill="#27c2ab"/>
<rect x="102" y="248" width="7" height="7" fill="#1ec0b2"/>
<rect x="108" y="248" width="7" height="7" fill="#13beb9"/>
<rect x="114" y="248" width="7" height="7" fill="#08bcbf"/>
<rect x="120" y="248" width="7" height="7" fill="#01bac5"/>
<rect x="126" y="248" width="7" height="7" fill="#02b7cb"/>
<rect x="132" y="248" width="7" height="7" fill="#08b4d0"/>
<rect x="138" y="248" width="7" height="7" fill="#10b2d5"/>
<rect x="144" y="248" width="7" height="7" fill="#15afd9"/>
<rect x="150" y="248" width="7" height="7" fill="#19addc"/>
<rect x="156" y="248" width="7" height="7" fill="#1babde"/>
<rect x="162" y="248" width="7" height="7" fill="#1da9e0"/>
<rect x="168" y="248" width="7" height="7" fill="#1ea7e1"/>
<rect x="174" y="248" width="7" height="7" fill="#1fa5e2"/>
<rect x="180" y="248" width="7" height="7" fill="#21a3e3"/>
<rect x="186" y="248" width="7" height="7" fill="#23a1e5"/>
<rect x="192" y="248" width="7" height="7" fill="#249ee6"/>
<rect x="198" y="248" width="7" height="7" fill="#2699e9"/>
<rect x="204" y="248" width="7" height="7" fill="#2a93ed"/>
<rect x="210" y="248" width="7" height="7" fill="#2c8ff1"/>
<rect x="216" y="248" width="7" height="7" fill="#2d8df2"/>
<rect x="222" y="248" width="7" height="7" fill="#2d8cf3"/>
<rect x="228" y="248" width="7" height="7" fill="#2d8cf3"/>
<rect x="234" y="248" width="7" height="7" fill="#2d8df2"/>
<rect x="240" y="248" width="7" height="7" fill="#2d8df2"/>
<rect x="246" y="248" width="7" height="7" fill="#2d8df3"/>
<rect x="252" y="248" width="7" height="7" fill="#2d8df2"/>
<rect x="258" y="248" width="7" height="7" fill="#2d8df2"/>
<rect x="264" y="248" width="7" height="7" fill="#2d8df2"/>
<rect x="270" y="248" width="7" height="7" fill="#2d8df2"/>
<rect x="276" y="248" width="7" height="7" fill="#2d8cf3"/>
<rect x="282" y="248" width="7" height="7" fill="#2d8bf4"/>
<rect x="288" y="248" width="7" height="7" fill="#2d88f6"/>
<rect x="294" y="248" width="7" height="7" fill="#2e84f8"/>
<rect x="300" y="248" width="7" height="7" fill="#307ffb"/>
<rect x="306" y="248" width="7" height="7" fill="#337bfc"/>
<rect x="312" y="248" width="7" height="7" fill="#3677fe"/>
<rect x="318" y="248" width="7" height="7" fill="#3776fe"/>
<rect x="324" y="248" width="7" height="7" fill="#3579fd"/>
<rect x="330" y="248" width="7" height="7" fill="#317efb"/>
<rect x="336" y="248" width="7" height="7" fill="#2f83f9"/>
<rect x="342" y="248" width="7" height="7" fill="#2e85f8"/>
<rect x="348" y="248" width="7" height="7" fill="#2e85f8"/>
<rect x="354" y="248" width="7" height="7" fill="#2e84f8"/>
<rect x="360" y="248" width="7" height="7" fill="#2e83f9"/>
<rect x="366" y="248" width="7" height="7" fill="#2e83f9"/>
<rect x="372" y="248" width="7" height="7" fill="#2f82fa"/>
<rect x="378" y="248" width="7" height="7" fill="#317efb"/>
<rect x="384" y="248" width="7" height="7" fill="#3b73fe"/>
<rect x="390" y="248" width="7" height="7" fill="#4367fd"/>
<rect x="396" y="248" width="7" height="7" fill="#4562fc"/>
<rect x="402" y="248" width="7" height="7" fill="#4660fb"/>
<rect x="408" y="248" width="7" height="7" fill="#4661fc"/>
<rect x="414" y="248" width="7" height="7" fill="#4465fd"/>
<rect x="420" y="248" width="7" height="7" fill="#4465fd"/>
<rect x="426" y="248" width="7" height="7" fill="#465dfa"/>
<rect x="432" y="248" width="7" height="7" fill="#484ef1"/>
<rect x="438" y="248" width="7" height="7" fill="#463ee1"/>
<rect x="444" y="248" width="7" height="7" fill="#4433cb"/>
<rect x="90" y="254" width="7" height="7" fill="#27c2ab"/>
<rect x="96" y="254" width="7" height="7" fill="#1fc0b2"/>
<rect x="102" y="254" width="7" height="7" fill="#14bfb8"/>
<rect x="108" y="254" width="7" height="7" fill="#09bcbe"/>
<rect x="114" y="254" width="7" height="7" fill="#02bac4"/>
<rect x="120" y="254" width="7" height="7" fill="#01b8ca"/>
<rect x="126" y="254" width="7" height="7" fill="#07b5cf"/>
<rect x="132" y="254" width="7" height="7" fill="#0eb2d4"/>
<rect x="138" y="254" width="7" height="7" fill="#14b0d8"/>
<rect x="144" y="254" width="7" height="7" fill="#19addc"/>
<rect x="150" y="254" width="7" height="7" fill="#1baade"/>
<rect x="156" y="254" width="7" height="7" fill="#1da8e0"/>
<rect x="162" y="254" width="7" height="7" fill="#1fa6e2"/>
<rect x="168" y="254" width="7" height="7" fill="#21a3e3"/>
<rect x="174" y="254" width="7" height="7" fill="#22a1e4"/>
<rect x="180" y="254" width="7" height="7" fill="#249fe5"/>
<rect x="186" y="254" width="7" height="7" fill="#259ce7"/>
<rect x="192" y="254" width="7" height="7" fill="#269ae9"/>
<rect x="198" y="254" width="7" height="7" fill="#2895ec"/>
<rect x="204" y="254" width="7" height="7" fill="#2c8ff1"/>
<rect x="210" y="254" width="7" height="7" fill="#2d8bf4"/>
<rect x="216" y="254" width="7" height="7" fill="#2d89f5"/>
<rect x="222" y="254" width="7" height="7" fill="#2d89f6"/>
<rect x="228" y="254" width="7" height="7" fill="#2d89f5"/>
<rect x="234" y="254" width="7" height="7" fill="#2d89f5"/>
<rect x="240" y="254" width="7" height="7" fill="#2d89f5"/>
<rect x="246" y="254" width="7" height="7" fill="#2d89f5"/>
<rect x="252" y="254" width="7" height="7" fill="#2d89f5"/>
<rect x="258" y="254" width="7" height="7" fill="#2d89f5"/>
<rect x="264" y="254" width="7" height="7" fill="#2d89f5"/>
<rect x="270" y="254" width="7" height="7" fill="#2d8af5"/>
<rect x="276" y="254" width="7" height="7" fill="#2d89f5"/>
<rect x="282" y="254" width="7" height="7" fill="#2d88f6"/>
<rect x="288" y="254" width="7" height="7" fill="#2e84f8"/>
<rect x="294" y="254" width="7" height="7" fill="#307ffb"/>
<rect x="300" y="254" width="7" height="7" fill="#347afd"/>
<rect x="306" y="254" width="7" height="7" fill="#3974fe"/>
<rect x="312" y="254" width="7" height="7" fill="#3d70ff"/>
<rect x="318" y="254" width="7" height="7" fill="#3e6fff"/>
<rect x="324" y="254" width="7" height="7" fill="#3d71ff"/>
<rect x="330" y="254" width="7" height="7" fill="#3975fe"/>
<rect x="336" y="254" width="7" height="7" fill="#337bfc"/>
<rect x="342" y="254" width="7" height="7" fill="#307ffb"/>
<rect x="348" y="254" width="7" height="7" fill="#2f81fa"/>
<rect x="354" y="254" width="7" height="7" fill="#2f80fa"/>
<rect x="360" y="254" width="7" height="7" fill="#307efb"/>
<rect x="366" y="254" width="7" height="7" fill="#317dfc"/>
<rect x="372" y="254" width="7" height="7" fill="#327cfc"/>
<rect x="378" y="254" width="7" height="7" fill="#3579fd"/>
<rect x="384" y="254" width="7" height="7" fill="#3e70ff"/>
<rect x="390" y="254" width="7" height="7" fill="#4563fc"/>
<rect x="396" y="254" width="7" height="7" fill="#465dfa"/>
<rect x="402" y="254" width="7" height="7" fill="#475dfa"/>
<rect x="408" y="254" width="7" height="7" fill="#475dfa"/>
<rect x="414" y="254" width="7" height="7" fill="#465ffb"/>
<rect x="420" y="254" width="7" height="7" fill="#4660fb"/>
<rect x="426" y="254" width="7" height="7" fill="#4756f6"/>
<rect x="432" y="254" width="7" height="7" fill="#4745e9"/>
<rect x="438" y="254" width="7" height="7" fill="#4536d2"/>
<rect x="444" y="254" width="7" height="7" fill="#412cba"/>
<rect x="90" y="260" width="7" height="7" fill="#1fc0b2"/>
<rect x="96" y="260" width="7" height="7" fill="#15bfb7"/>
<rect x="102" y="260" width="7" height="7" fill="#0abdbd"/>
<rect x="108" y="260" width="7" height="7" fill="#02bac3"/>
<rect x="114" y="260" width="7" height="7" fill="#01b8c9"/>
<rect x="120" y="260" width="7" height="7" fill="#06b6ce"/>
<rect x="126" y="260" width="7" height="7" fill="#0db3d3"/>
<rect x="132" y="260" width="7" height="7" fill="#14b0d8"/>
<rect x="138" y="260" width="7" height="7" fill="#19addc"/>
<rect x="144" y="260" width="7" height="7" fill="#1baade"/>
<rect x="150" y="260" width="7" height="7" fill="#1ea7e1"/>
<rect x="156" y="260" width="7" height="7" fill="#20a5e3"/>
<rect x="162" y="260" width="7" height="7" fill="#22a2e4"/>
<rect x="168" y="260" width="7" height="7" fill="#239fe5"/>
<rect x="174" y="260" width="7" height="7" fill="#259de7"/>
<rect x="180" y="260" width="7" height="7" fill="#269ae9"/>
<rect x="186" y="260" width="7" height="7" fill="#2797eb"/>
<rect x="192" y="260" width="7" height="7" fill="#2a92ee"/>
<rect x="198" y="260" width="7" height="7" fill="#2d8df2"/>
<rect x="204" y="260" width="7" height="7" fill="#2d88f6"/>
<rect x="210" y="260" width="7" height="7" fill="#2e86f8"/>
<rect x="216" y="260" width="7" height="7" fill="#2e85f8"/>
<rect x="222" y="260" width="7" height="7" fill="#2e85f8"/>
<rect x="228" y="260" width="7" height="7" fill="#2e85f8"/>
<rect x="234" y="260" width="7" height="7" fill="#2e86f8"/>
<rect x="240" y="260" width="7" height="7" fill="#2e85f8"/>
<rect x="246" y="260" width="7" height="7" fill="#2e85f8"/>
<rect x="252" y="260" width="7" height="7" fill="#2e85f8"/>
<rect x="258" y="260" width="7" height="7" fill="#2e85f8"/>
<rect x="264" y="260" width="7" height="7" fill="#2e86f8"/>
<rect x="270" y="260" width="7" height="7" fill="#2e86f7"/>
<rect x="276" y="260" width="7" height="7" fill="#2e87f7"/>
<rect x="282" y="260" width="7" height="7" fill="#2e85f8"/>
<rect x="288" y="260" width="7" height="7" fill="#2f81fa"/>
<rect x="294" y="260" width="7" height="7" fill="#327cfc"/>
<rect x="300" y="260" width="7" height="7" fill="#3875fe"/>
<rect x="306" y="260" width="7" height="7" fill="#3e6fff"/>
<rect x="312" y="260" width="7" height="7" fill="#426afe"/>
<rect x="318" y="260" width="7" height="7" fill="#4368fd"/>
<rect x="324" y="260" width="7" height="7" fill="#4368fe"/>
<rect x="330" y="260" width="7" height="7" fill="#406cfe"/>
<rect x="336" y="260" width="7" height="7" fill="#3a73fe"/>
<rect x="342" y="260" width="7" height="7" fill="#347afd"/>
<rect x="348" y="260" width="7" height="7" fill="#317dfc"/>
<rect x="354" y="260" width="7" height="7" fill="#327cfc"/>
<rect x="360" y="260" width="7" height="7" fill="#347afd"/>
<rect x="366" y="260" width="7" height="7" fill="#3677fe"/>
<rect x="372" y="260" width="7" height="7" fill="#3975fe"/>
<rect x="378" y="260" width="7" height="7" fill="#3d70ff"/>
<rect x="384" y="260" width="7" height="7" fill="#4367fd"/>
<rect x="390" y="260" width="7" height="7" fill="#475dfa"/>
<rect x="396" y="260" width="7" height="7" fill="#4757f7"/>
<rect x="402" y="260" width="7" height="7" fill="#4755f6"/>
<rect x="408" y="260" width="7" height="7" fill="#4755f6"/>
<rect x="414" y="260" width="7" height="7" fill="#4757f7"/>
<rect x="420" y="260" width="7" height="7" fill="#4757f7"/>
<rect x="426" y="260" width="7" height="7" fill="#484ff2"/>
<rect x="432" y="260" width="7" height="7" fill="#4740e3"/>
<rect x="438" y="260" width="7" height="7" fill="#4332c8"/>
<rect x="444" y="260" width="7" height="7" fill="#3f28af"/>
<rect x="450" y="260" width="7" height="7" fill="#3e26a8"/>
<rect x="96" y="266" width="7" height="7" fill="#0abdbd"/>
<rect x="102" y="266" width="7" height="7" fill="#02bbc3"/>
<rect x="108" y="266" width="7" height="7" fill="#01b8c8"/>
<rect x="114" y="266" width="7" height="7" fill="#05b6ce"/>
<rect x="120" y="266" width="7" height="7" fill="#0cb3d3"/>
<rect x="126" y="266" width="7" height="7" fill="#13b0d7"/>
<rect x="132" y="266" width="7" height="7" fill="#18addb"/>
<rect x="138" y="266" width="7" height="7" fill="#1baade"/>
<rect x="144" y="266" width="7" height="7" fill="#1ea7e1"/>
<rect x="150" y="266" width="7" height="7" fill="#20a4e3"/>
<rect x="156" y="266" width="7" height="7" fill="#22a1e4"/>
<rect x="162" y="266" width="7" height="7" fill="#249ee6"/>
<rect x="168" y="266" width="7" height="7" fill="#259be8"/>
<rect x="174" y="266" width="7" height="7" fill="#2798ea"/>
<rect x="180" y="266" width="7" height="7" fill="#2995ec"/>
<rect x="186" y="266" width="7" height="7" fill="#2b91ef"/>
<rect x="192" y="266" width="7" height="7" fill="#2d8cf3"/>
<rect x="198" y="266" width="7" height="7" fill="#2e86f8"/>
<rect x="204" y="266" width="7" height="7" fill="#2f82fa"/>
<rect x="210" y="266" width="7" height="7" fill="#2f82fa"/>
<rect x="216" y="266" width="7" height="7" fill="#2f82fa"/>
<rect x="222" y="266" width="7" height="7" fill="#2f83f9"/>
<rect x="228" y="266" width="7" height="7" fill="#2e83f9"/>
<rect x="234" y="266" width="7" height="7" fill="#2e83f9"/>
<rect x="240" y="266" width="7" height="7" fill="#2e83f9"/>
<rect x="246" y="266" width="7" height="7" fill="#2e83f9"/>
<rect x="252" y="266" width="7" height="7" fill="#2e83f9"/>
<rect x="258" y="266" width="7" height="7" fill="#2f83f9"/>
<rect x="264" y="266" width="7" height="7" fill="#2e83f9"/>
<rect x="270" y="266" width="7" height="7" fill="#2e84f9"/>
<rect x="276" y="266" width="7" height="7" fill="#2e84f8"/>
<rect x="282" y="266" width="7" height="7" fill="#2f82f9"/>
<rect x="288" y="266" width="7" height="7" fill="#317efb"/>
<rect x="294" y="266" width="7" height="7" fill="#3678fd"/>
<rect x="300" y="266" width="7" height="7" fill="#3c71ff"/>
<rect x="306" y="266" width="7" height="7" fill="#416bfe"/>
<rect x="312" y="266" width="7" height="7" fill="#4465fd"/>
<rect x="318" y="266" width="7" height="7" fill="#4562fc"/>
<rect x="324" y="266" width="7" height="7" fill="#4661fc"/>
<rect x="330" y="266" width="7" height="7" fill="#4465fd"/>
<rect x="336" y="266" width="7" height="7" fill="#406dfe"/>
<rect x="342" y="266" width="7" height="7" fill="#3975fe"/>
<rect x="348" y="266" width="7" height="7" fill="#3479fd"/>
<rect x="354" y="266" width="7" height="7" fill="#3578fd"/>
<rect x="360" y="266" width="7" height="7" fill="#3975fe"/>
<rect x="366" y="266" width="7" height="7" fill="#3d71ff"/>
<rect x="372" y="266" width="7" height="7" fill="#406dfe"/>
<rect x="378" y="266" width="7" height="7" fill="#4367fd"/>
<rect x="384" y="266" width="7" height="7" fill="#465efb"/>
<rect x="390" y="266" width="7" height="7" fill="#4755f6"/>
<rect x="396" y="266" width="7" height="7" fill="#4850f3"/>
<rect x="402" y="266" width="7" height="7" fill="#484df0"/>
<rect x="408" y="266" width="7" height="7" fill="#484cf0"/>
<rect x="414" y="266" width="7" height="7" fill="#484cf0"/>
<rect x="420" y="266" width="7" height="7" fill="#484df1"/>
<rect x="426" y="266" width="7" height="7" fill="#484aed"/>
<rect x="432" y="266" width="7" height="7" fill="#463cdf"/>
<rect x="438" y="266" width="7" height="7" fill="#422fc2"/>
<rect x="444" y="266" width="7" height="7" fill="#3e26a8"/>
<rect x="450" y="266" width="7" height="7" fill="#3e26a8"/>
<rect x="102" y="272" width="7" height="7" fill="#01b9c8"/>
<rect x="108" y="272" width="7" height="7" fill="#04b6cd"/>
<rect x="114" y="272" width="7" height="7" fill="#0bb3d2"/>
<rect x="120" y="272" width="7" height="7" fill="#12b1d7"/>
<rect x="126" y="272" width="7" height="7" fill="#18aedb"/>
<rect x="132" y="272" width="7" height="7" fill="#1baade"/>
<rect x="138" y="272" width="7" height="7" fill="#1ea7e1"/>
<rect x="144" y="272" width="7" height="7" fill="#20a4e3"/>
<rect x="150" y="272" width="7" height="7" fill="#23a1e4"/>
<rect x="156" y="272" width="7" height="7" fill="#249ee6"/>
<rect x="162" y="272" width="7" height="7" fill="#269ae8"/>
<rect x="168" y="272" width="7" height="7" fill="#2797eb"/>
<rect x="174" y="272" width="7" height="7" fill="#2994ed"/>
<rect x="180" y="272" width="7" height="7" fill="#2c90f0"/>
<rect x="186" y="272" width="7" height="7" fill="#2d8cf3"/>
<rect x="192" y="272" width="7" height="7" fill="#2e87f7"/>
<rect x="198" y="272" width="7" height="7" fill="#2e83f9"/>
<rect x="204" y="272" width="7" height="7" fill="#2f80fa"/>
<rect x="210" y="272" width="7" height="7" fill="#2f80fa"/>
<rect x="216" y="272" width="7" height="7" fill="#2f80fa"/>
<rect x="222" y="272" width="7" height="7" fill="#2f81fa"/>
<rect x="228" y="272" width="7" height="7" fill="#2f81fa"/>
<rect x="234" y="272" width="7" height="7" fill="#2f81fa"/>
<rect x="240" y="272" width="7" height="7" fill="#2f81fa"/>
<rect x="246" y="272" width="7" height="7" fill="#2f81fa"/>
<rect x="252" y="272" width="7" height="7" fill="#2f81fa"/>
<rect x="258" y="272" width="7" height="7" fill="#2f81fa"/>
<rect x="264" y="272" width="7" height="7" fill="#2f81fa"/>
<rect x="270" y="272" width="7" height="7" fill="#2f82fa"/>
<rect x="276" y="272" width="7" height="7" fill="#2f81fa"/>
<rect x="282" y="272" width="7" height="7" fill="#307ffb"/>
<rect x="288" y="272" width="7" height="7" fill="#337bfd"/>
<rect x="294" y="272" width="7" height="7" fill="#3975fe"/>
<rect x="300" y="272" width="7" height="7" fill="#3f6eff"/>
<rect x="306" y="272" width="7" height="7" fill="#4368fe"/>
<rect x="312" y="272" width="7" height="7" fill="#4562fc"/>
<rect x="318" y="272" width="7" height="7" fill="#465ffb"/>
<rect x="324" y="272" width="7" height="7" fill="#465efb"/>
<rect x="330" y="272" width="7" height="7" fill="#4561fc"/>
<rect x="336" y="272" width="7" height="7" fill="#4269fe"/>
<rect x="342" y="272" width="7" height="7" fill="#3d71ff"/>
<rect x="348" y="272" width="7" height="7" fill="#3975fe"/>
<rect x="354" y="272" width="7" height="7" fill="#3a73fe"/>
<rect x="360" y="272" width="7" height="7" fill="#3e6fff"/>
<rect x="366" y="272" width="7" height="7" fill="#416afe"/>
<rect x="372" y="272" width="7" height="7" fill="#4466fd"/>
<rect x="378" y="272" width="7" height="7" fill="#4661fc"/>
<rect x="384" y="272" width="7" height="7" fill="#4759f8"/>
<rect x="390" y="272" width="7" height="7" fill="#4852f4"/>
<rect x="396" y="272" width="7" height="7" fill="#484df0"/>
<rect x="402" y="272" width="7" height="7" fill="#4849ed"/>
<rect x="408" y="272" width="7" height="7" fill="#4747eb"/>
<rect x="414" y="272" width="7" height="7" fill="#4746eb"/>
<rect x="420" y="272" width="7" height="7" fill="#4747eb"/>
<rect x="426" y="272" width="7" height="7" fill="#4744e8"/>
<rect x="432" y="272" width="7" height="7" fill="#4539d9"/>
<rect x="438" y="272" width="7" height="7" fill="#412dbd"/>
<rect x="444" y="272" width="7" height="7" fill="#3e26a8"/>
<rect x="450" y="272" width="7" height="7" fill="#3e26a8"/>
<rect x="108" y="278" width="7" height="7" fill="#0ab4d2"/>
<rect x="114" y="278" width="7" height="7" fill="#12b1d6"/>
<rect x="120" y="278" width="7" height="7" fill="#17aedb"/>
<rect x="126" y="278" width="7" height="7" fill="#1babde"/>
<rect x="132" y="278" width="7" height="7" fill="#1ea7e1"/>
<rect x="138" y="278" width="7" height="7" fill="#20a4e3"/>
<rect x="144" y="278" width="7" height="7" fill="#23a1e5"/>
<rect x="150" y="278" width="7" height="7" fill="#249de6"/>
<rect x="156" y="278" width="7" height="7" fill="#269ae9"/>
<rect x="162" y="278" width="7" height="7" fill="#2797eb"/>
<rect x="168" y="278" width="7" height="7" fill="#2a93ed"/>
<rect x="174" y="278" width="7" height="7" fill="#2c8ff0"/>
<rect x="180" y="278" width="7" height="7" fill="#2d8cf3"/>
<rect x="186" y="278" width="7" height="7" fill="#2d88f6"/>
<rect x="192" y="278" width="7" height="7" fill="#2e84f9"/>
<rect x="198" y="278" width="7" height="7" fill="#2f81fa"/>
<rect x="204" y="278" width="7" height="7" fill="#3080fa"/>
<rect x="210" y="278" width="7" height="7" fill="#307ffb"/>
<rect x="216" y="278" width="7" height="7" fill="#307ffb"/>
<rect x="222" y="278" width="7" height="7" fill="#307ffb"/>
<rect x="228" y="278" width="7" height="7" fill="#3080fb"/>
<rect x="234" y="278" width="7" height="7" fill="#307ffb"/>
<rect x="240" y="278" width="7" height="7" fill="#307ffb"/>
<rect x="246" y="278" width="7" height="7" fill="#3080fb"/>
<rect x="252" y="278" width="7" height="7" fill="#307ffb"/>
<rect x="258" y="278" width="7" height="7" fill="#307ffb"/>
<rect x="264" y="278" width="7" height="7" fill="#3080fb"/>
<rect x="270" y="278" width="7" height="7" fill="#307ffb"/>
<rect x="276" y="278" width="7" height="7" fill="#317efb"/>
<rect x="282" y="278" width="7" height="7" fill="#327bfc"/>
<rect x="288" y="278" width="7" height="7" fill="#3777fe"/>
<rect x="294" y="278" width="7" height="7" fill="#3c71ff"/>
<rect x="300" y="278" width="7" height="7" fill="#416bfe"/>
<rect x="306" y="278" width="7" height="7" fill="#4466fd"/>
<rect x="312" y="278" width="7" height="7" fill="#4561fc"/>
<rect x="318" y="278" width="7" height="7" fill="#465efb"/>
<rect x="324" y="278" width="7" height="7" fill="#465efb"/>
<rect x="330" y="278" width="7" height="7" fill="#4561fc"/>
<rect x="336" y="278" width="7" height="7" fill="#4367fd"/>
<rect x="342" y="278" width="7" height="7" fill="#406dfe"/>
<rect x="348" y="278" width="7" height="7" fill="#3f6fff"/>
<rect x="354" y="278" width="7" height="7" fill="#406dfe"/>
<rect x="360" y="278" width="7" height="7" fill="#4269fe"/>
<rect x="366" y="278" width="7" height="7" fill="#4564fd"/>
<rect x="372" y="278" width="7" height="7" fill="#4660fb"/>
<rect x="378" y="278" width="7" height="7" fill="#475bf9"/>
<rect x="384" y="278" width="7" height="7" fill="#4756f6"/>
<rect x="390" y="278" width="7" height="7" fill="#484ff2"/>
<rect x="396" y="278" width="7" height="7" fill="#484cef"/>
<rect x="402" y="278" width="7" height="7" fill="#4848ec"/>
<rect x="408" y="278" width="7" height="7" fill="#4745e9"/>
<rect x="414" y="278" width="7" height="7" fill="#4743e7"/>
<rect x="420" y="278" width="7" height="7" fill="#4742e6"/>
<rect x="426" y="278" width="7" height="7" fill="#473ee1"/>
<rect x="432" y="278" width="7" height="7" fill="#4435d1"/>
<rect x="438" y="278" width="7" height="7" fill="#402bb8"/>
<rect x="444" y="278" width="7" height="7" fill="#3e26a8"/>
<rect x="450" y="278" width="7" height="7" fill="#3e26a8"/>
<rect x="114" y="284" width="7" height="7" fill="#17aeda"/>
<rect x="120" y="284" width="7" height="7" fill="#1babde"/>
<rect x="126" y="284" width="7" height="7" fill="#1ea8e1"/>
<rect x="132" y="284" width="7" height="7" fill="#20a4e3"/>
<rect x="138" y="284" width="7" height="7" fill="#23a1e4"/>
<rect x="144" y="284" width="7" height="7" fill="#249de6"/>
<rect x="150" y="284" width="7" height="7" fill="#269ae9"/>
<rect x="156" y="284" width="7" height="7" fill="#2796eb"/>
<rect x="162" y="284" width="7" height="7" fill="#2a93ee"/>
<rect x="168" y="284" width="7" height="7" fill="#2c8ff0"/>
<rect x="174" y="284" width="7" height="7" fill="#2d8cf3"/>
<rect x="180" y="284" width="7" height="7" fill="#2d88f6"/>
<rect x="186" y="284" width="7" height="7" fill="#2e84f8"/>
<rect x="192" y="284" width="7" height="7" fill="#2f81fa"/>
<rect x="198" y="284" width="7" height="7" fill="#307ffb"/>
<rect x="204" y="284" width="7" height="7" fill="#317dfc"/>
<rect x="210" y="284" width="7" height="7" fill="#327cfc"/>
<rect x="216" y="284" width="7" height="7" fill="#327cfc"/>
<rect x="222" y="284" width="7" height="7" fill="#327cfc"/>
<rect x="228" y="284" width="7" height="7" fill="#327cfc"/>
<rect x="234" y="284" width="7" height="7" fill="#327cfc"/>
<rect x="240" y="284" width="7" height="7" fill="#327cfc"/>
<rect x="246" y="284" width="7" height="7" fill="#327cfc"/>
<rect x="252" y="284" width="7" height="7" fill="#327cfc"/>
<rect x="258" y="284" width="7" height="7" fill="#327cfc"/>
<rect x="264" y="284" width="7" height="7" fill="#327cfc"/>
<rect x="270" y="284" width="7" height="7" fill="#327cfc"/>
<rect x="276" y="284" width="7" height="7" fill="#337bfd"/>
<rect x="282" y="284" width="7" height="7" fill="#3678fd"/>
<rect x="288" y="284" width="7" height="7" fill="#3a74fe"/>
<rect x="294" y="284" width="7" height="7" fill="#3f6fff"/>
<rect x="300" y="284" width="7" height="7" fill="#4269fe"/>
<rect x="306" y="284" width="7" height="7" fill="#4464fd"/>
<rect x="312" y="284" width="7" height="7" fill="#4661fc"/>
<rect x="318" y="284" width="7" height="7" fill="#465efb"/>
<rect x="324" y="284" width="7" height="7" fill="#465efb"/>
<rect x="330" y="284" width="7" height="7" fill="#4660fb"/>
<rect x="336" y="284" width="7" height="7" fill="#4563fd"/>
<rect x="342" y="284" width="7" height="7" fill="#4367fd"/>
<rect x="348" y="284" width="7" height="7" fill="#4368fd"/>
<rect x="354" y="284" width="7" height="7" fill="#4466fd"/>
<rect x="360" y="284" width="7" height="7" fill="#4561fc"/>
<rect x="366" y="284" width="7" height="7" fill="#475cfa"/>
<rect x="372" y="284" width="7" height="7" fill="#4757f7"/>
<rect x="378" y="284" width="7" height="7" fill="#4852f4"/>
<rect x="384" y="284" width="7" height="7" fill="#484df0"/>
<rect x="390" y="284" width="7" height="7" fill="#4848ec"/>
<rect x="396" y="284" width="7" height="7" fill="#4746ea"/>
<rect x="402" y="284" width="7" height="7" fill="#4743e7"/>
<rect x="408" y="284" width="7" height="7" fill="#4740e4"/>
<rect x="414" y="284" width="7" height="7" fill="#473ee1"/>
<rect x="420" y="284" width="7" height="7" fill="#463cde"/>
<rect x="426" y="284" width="7" height="7" fill="#4538d7"/>
<rect x="432" y="284" width="7" height="7" fill="#4331c6"/>
<rect x="438" y="284" width="7" height="7" fill="#4029b3"/>
<rect x="444" y="284" width="7" height="7" fill="#3e26a8"/>
<rect x="450" y="284" width="7" height="7" fill="#3e26a8"/>
<rect x="120" y="290" width="7" height="7" fill="#1da8e0"/>
<rect x="126" y="290" width="7" height="7" fill="#20a4e3"/>
<rect x="132" y="290" width="7" height="7" fill="#23a1e4"/>
<rect x="138" y="290" width="7" height="7" fill="#249de6"/>
<rect x="144" y="290" width="7" height="7" fill="#269ae9"/>
<rect x="150" y="290" width="7" height="7" fill="#2796eb"/>
<rect x="156" y="290" width="7" height="7" fill="#2a93ee"/>
<rect x="162" y="290" width="7" height="7" fill="#2c8ff0"/>
<rect x="168" y="290" width="7" height="7" fill="#2d8cf3"/>
<rect x="174" y="290" width="7" height="7" fill="#2d88f6"/>
<rect x="180" y="290" width="7" height="7" fill="#2e84f8"/>
<rect x="186" y="290" width="7" height="7" fill="#2f81fa"/>
<rect x="192" y="290" width="7" height="7" fill="#317efb"/>
<rect x="198" y="290" width="7" height="7" fill="#327cfc"/>
<rect x="204" y="290" width="7" height="7" fill="#347afd"/>
<rect x="210" y="290" width="7" height="7" fill="#3578fd"/>
<rect x="216" y="290" width="7" height="7" fill="#3678fe"/>
<rect x="222" y="290" width="7" height="7" fill="#3678fd"/>
<rect x="228" y="290" width="7" height="7" fill="#3678fd"/>
<rect x="234" y="290" width="7" height="7" fill="#3678fd"/>
<rect x="240" y="290" width="7" height="7" fill="#3578fd"/>
<rect x="246" y="290" width="7" height="7" fill="#3578fd"/>
<rect x="252" y="290" width="7" height="7" fill="#3678fd"/>
<rect x="258" y="290" width="7" height="7" fill="#3578fd"/>
<rect x="264" y="290" width="7" height="7" fill="#3579fd"/>
<rect x="270" y="290" width="7" height="7" fill="#3578fd"/>
<rect x="276" y="290" width="7" height="7" fill="#3777fe"/>
<rect x="282" y="290" width="7" height="7" fill="#3974fe"/>
<rect x="288" y="290" width="7" height="7" fill="#3d71ff"/>
<rect x="294" y="290" width="7" height="7" fill="#406cfe"/>
<rect x="300" y="290" width="7" height="7" fill="#4368fd"/>
<rect x="306" y="290" width="7" height="7" fill="#4563fd"/>
<rect x="312" y="290" width="7" height="7" fill="#4660fc"/>
<rect x="318" y="290" width="7" height="7" fill="#465efb"/>
<rect x="324" y="290" width="7" height="7" fill="#465dfa"/>
<rect x="330" y="290" width="7" height="7" fill="#465dfb"/>
<rect x="336" y="290" width="7" height="7" fill="#465efb"/>
<rect x="342" y="290" width="7" height="7" fill="#465ffb"/>
<rect x="348" y="290" width="7" height="7" fill="#465efb"/>
<rect x="354" y="290" width="7" height="7" fill="#475cfa"/>
<rect x="360" y="290" width="7" height="7" fill="#4758f8"/>
<rect x="366" y="290" width="7" height="7" fill="#4852f4"/>
<rect x="372" y="290" width="7" height="7" fill="#484cef"/>
<rect x="378" y="290" width="7" height="7" fill="#4746ea"/>
<rect x="384" y="290" width="7" height="7" fill="#4740e4"/>
<rect x="390" y="290" width="7" height="7" fill="#463de0"/>
<rect x="396" y="290" width="7" height="7" fill="#463cdf"/>
<rect x="402" y="290" width="7" height="7" fill="#463cde"/>
<rect x="408" y="290" width="7" height="7" fill="#463adc"/>
<rect x="414" y="290" width="7" height="7" fill="#4538d8"/>
<rect x="420" y="290" width="7" height="7" fill="#4536d3"/>
<rect x="426" y="290" width="7" height="7" fill="#4332ca"/>
<rect x="432" y="290" width="7" height="7" fill="#412dbc"/>
<rect x="438" y="290" width="7" height="7" fill="#3f29b0"/>
<rect x="444" y="290" width="7" height="7" fill="#3e26a8"/>
<rect x="450" y="290" width="7" height="7" fill="#3e26a8"/>
<rect x="126" y="296" width="7" height="7" fill="#22a1e4"/>
<rect x="132" y="296" width="7" height="7" fill="#249ee6"/>
<rect x="138" y="296" width="7" height="7" fill="#269ae8"/>
<rect x="144" y="296" width="7" height="7" fill="#2797eb"/>
<rect x="150" y="296" width="7" height="7" fill="#2a93ee"/>
<rect x="156" y="296" width="7" height="7" fill="#2c8ff0"/>
<rect x="162" y="296" width="7" height="7" fill="#2d8cf3"/>
<rect x="168" y="296" width="7" height="7" fill="#2d88f6"/>
<rect x="174" y="296" width="7" height="7" fill="#2e84f8"/>
<rect x="180" y="296" width="7" height="7" fill="#2f81fa"/>
<rect x="186" y="296" width="7" height="7" fill="#317efb"/>
<rect x="192" y="296" width="7" height="7" fill="#337bfd"/>
<rect x="198" y="296" width="7" height="7" fill="#3678fd"/>
<rect x="204" y="296" width="7" height="7" fill="#3876fe"/>
<rect x="210" y="296" width="7" height="7" fill="#3975fe"/>
<rect x="216" y="296" width="7" height="7" fill="#3a74fe"/>
<rect x="222" y="296" width="7" height="7" fill="#3a74fe"/>
<rect x="228" y="296" width="7" height="7" fill="#3a74fe"/>
<rect x="234" y="296" width="7" height="7" fill="#3a74fe"/>
<rect x="240" y="296" width="7" height="7" fill="#3974fe"/>
<rect x="246" y="296" width="7" height="7" fill="#3a74fe"/>
<rect x="252" y="296" width="7" height="7" fill="#3a74fe"/>
<rect x="258" y="296" width="7" height="7" fill="#3974fe"/>
<rect x="264" y="296" width="7" height="7" fill="#3975fe"/>
<rect x="270" y="296" width="7" height="7" fill="#3975fe"/>
<rect x="276" y="296" width="7" height="7" fill="#3a74fe"/>
<rect x="282" y="296" width="7" height="7" fill="#3c71ff"/>
<rect x="288" y="296" width="7" height="7" fill="#3f6efe"/>
<rect x="294" y="296" width="7" height="7" fill="#426afe"/>
<rect x="300" y="296" width="7" height="7" fill="#4466fd"/>
<rect x="306" y="296" width="7" height="7" fill="#4562fc"/>
<rect x="312" y="296" width="7" height="7" fill="#4660fb"/>
<rect x="318" y="296" width="7" height="7" fill="#465efb"/>
<rect x="324" y="296" width="7" height="7" fill="#475cfa"/>
<rect x="330" y="296" width="7" height="7" fill="#475bf9"/>
<rect x="336" y="296" width="7" height="7" fill="#4759f8"/>
<rect x="342" y="296" width="7" height="7" fill="#4756f6"/>
<rect x="348" y="296" width="7" height="7" fill="#4852f4"/>
<rect x="354" y="296" width="7" height="7" fill="#484ef1"/>
<rect x="360" y="296" width="7" height="7" fill="#4849ed"/>
<rect x="366" y="296" width="7" height="7" fill="#4743e7"/>
<rect x="372" y="296" width="7" height="7" fill="#473fe2"/>
<rect x="378" y="296" width="7" height="7" fill="#463bdc"/>
<rect x="384" y="296" width="7" height="7" fill="#4536d4"/>
<rect x="390" y="296" width="7" height="7" fill="#4435d1"/>
<rect x="396" y="296" width="7" height="7" fill="#4435d2"/>
<rect x="402" y="296" width="7" height="7" fill="#4536d2"/>
<rect x="408" y="296" width="7" height="7" fill="#4435d1"/>
<rect x="414" y="296" width="7" height="7" fill="#4434ce"/>
<rect x="420" y="296" width="7" height="7" fill="#4332ca"/>
<rect x="426" y="296" width="7" height="7" fill="#4230c3"/>
<rect x="432" y="296" width="7" height="7" fill="#412cba"/>
<rect x="438" y="296" width="7" height="7" fill="#4029b3"/>
<rect x="444" y="296" width="7" height="7" fill="#3e26a9"/>
<rect x="450" y="296" width="7" height="7" fill="#3e26a8"/>
<rect x="132" y="302" width="7" height="7" fill="#269be8"/>
<rect x="138" y="302" width="7" height="7" fill="#2797eb"/>
<rect x="144" y="302" width="7" height="7" fill="#2a93ed"/>
<rect x="150" y="302" width="7" height="7" fill="#2c90f0"/>
<rect x="156" y="302" width="7" height="7" fill="#2d8cf3"/>
<rect x="162" y="302" width="7" height="7" fill="#2d88f6"/>
<rect x="168" y="302" width="7" height="7" fill="#2e85f8"/>
<rect x="174" y="302" width="7" height="7" fill="#2f81fa"/>
<rect x="180" y="302" width="7" height="7" fill="#317efb"/>
<rect x="186" y="302" width="7" height="7" fill="#337afd"/>
<rect x="192" y="302" width="7" height="7" fill="#3677fe"/>
<rect x="198" y="302" width="7" height="7" fill="#3975fe"/>
<rect x="204" y="302" width="7" height="7" fill="#3b73fe"/>
<rect x="210" y="302" width="7" height="7" fill="#3c71ff"/>
<rect x="216" y="302" width="7" height="7" fill="#3d70ff"/>
<rect x="222" y="302" width="7" height="7" fill="#3e70ff"/>
<rect x="228" y="302" width="7" height="7" fill="#3e6fff"/>
<rect x="234" y="302" width="7" height="7" fill="#3e70ff"/>
<rect x="240" y="302" width="7" height="7" fill="#3d70ff"/>
<rect x="246" y="302" width="7" height="7" fill="#3e70ff"/>
<rect x="252" y="302" width="7" height="7" fill="#3e70ff"/>
<rect x="258" y="302" width="7" height="7" fill="#3d70ff"/>
<rect x="264" y="302" width="7" height="7" fill="#3d70ff"/>
<rect x="270" y="302" width="7" height="7" fill="#3d71ff"/>
<rect x="276" y="302" width="7" height="7" fill="#3d70ff"/>
<rect x="282" y="302" width="7" height="7" fill="#3f6efe"/>
<rect x="288" y="302" width="7" height="7" fill="#426afe"/>
<rect x="294" y="302" width="7" height="7" fill="#4367fd"/>
<rect x="300" y="302" width="7" height="7" fill="#4564fd"/>
<rect x="306" y="302" width="7" height="7" fill="#4561fc"/>
<rect x="312" y="302" width="7" height="7" fill="#465ffb"/>
<rect x="318" y="302" width="7" height="7" fill="#465dfb"/>
<rect x="324" y="302" width="7" height="7" fill="#475bfa"/>
<rect x="330" y="302" width="7" height="7" fill="#4759f8"/>
<rect x="336" y="302" width="7" height="7" fill="#4854f5"/>
<rect x="342" y="302" width="7" height="7" fill="#484df1"/>
<rect x="348" y="302" width="7" height="7" fill="#4745e9"/>
<rect x="354" y="302" width="7" height="7" fill="#463cde"/>
<rect x="360" y="302" width="7" height="7" fill="#4537d5"/>
<rect x="366" y="302" width="7" height="7" fill="#4535d2"/>
<rect x="372" y="302" width="7" height="7" fill="#4435d0"/>
<rect x="378" y="302" width="7" height="7" fill="#4433cd"/>
<rect x="384" y="302" width="7" height="7" fill="#4331c8"/>
<rect x="390" y="302" width="7" height="7" fill="#4331c6"/>
<rect x="396" y="302" width="7" height="7" fill="#4331c8"/>
<rect x="402" y="302" width="7" height="7" fill="#4332c9"/>
<rect x="408" y="302" width="7" height="7" fill="#4332c8"/>
<rect x="414" y="302" width="7" height="7" fill="#4331c7"/>
<rect x="420" y="302" width="7" height="7" fill="#4330c5"/>
<rect x="426" y="302" width="7" height="7" fill="#422fc2"/>
<rect x="432" y="302" width="7" height="7" fill="#422ebf"/>
<rect x="438" y="302" width="7" height="7" fill="#412dbb"/>
<rect x="444" y="302" width="7" height="7" fill="#3f29b1"/>
<rect x="450" y="302" width="7" height="7" fill="#3e26a8"/>
<rect x="138" y="308" width="7" height="7" fill="#2994ed"/>
<rect x="144" y="308" width="7" height="7" fill="#2c90f0"/>
<rect x="150" y="308" width="7" height="7" fill="#2d8cf3"/>
<rect x="156" y="308" width="7" height="7" fill="#2d89f5"/>
<rect x="162" y="308" width="7" height="7" fill="#2e85f8"/>
<rect x="168" y="308" width="7" height="7" fill="#2f82fa"/>
<rect x="174" y="308" width="7" height="7" fill="#317efb"/>
<rect x="180" y="308" width="7" height="7" fill="#337afd"/>
<rect x="186" y="308" width="7" height="7" fill="#3777fe"/>
<rect x="192" y="308" width="7" height="7" fill="#3a74fe"/>
<rect x="198" y="308" width="7" height="7" fill="#3c71ff"/>
<rect x="204" y="308" width="7" height="7" fill="#3e6fff"/>
<rect x="210" y="308" width="7" height="7" fill="#3f6dfe"/>
<rect x="216" y="308" width="7" height="7" fill="#406cfe"/>
<rect x="222" y="308" width="7" height="7" fill="#416bfe"/>
<rect x="228" y="308" width="7" height="7" fill="#416bfe"/>
<rect x="234" y="308" width="7" height="7" fill="#416bfe"/>
<rect x="240" y="308" width="7" height="7" fill="#416bfe"/>
<rect x="246" y="308" width="7" height="7" fill="#416bfe"/>
<rect x="252" y="308" width="7" height="7" fill="#416bfe"/>
<rect x="258" y="308" width="7" height="7" fill="#416bfe"/>
<rect x="264" y="308" width="7" height="7" fill="#416cfe"/>
<rect x="270" y="308" width="7" height="7" fill="#406cfe"/>
<rect x="276" y="308" width="7" height="7" fill="#416cfe"/>
<rect x="282" y="308" width="7" height="7" fill="#426afe"/>
<rect x="288" y="308" width="7" height="7" fill="#4367fd"/>
<rect x="294" y="308" width="7" height="7" fill="#4564fd"/>
<rect x="300" y="308" width="7" height="7" fill="#4561fc"/>
<rect x="306" y="308" width="7" height="7" fill="#4660fb"/>
<rect x="312" y="308" width="7" height="7" fill="#465ffb"/>
<rect x="318" y="308" width="7" height="7" fill="#465efb"/>
<rect x="324" y="308" width="7" height="7" fill="#475cfa"/>
<rect x="330" y="308" width="7" height="7" fill="#4758f8"/>
<rect x="336" y="308" width="7" height="7" fill="#4852f4"/>
<rect x="342" y="308" width="7" height="7" fill="#4848ec"/>
<rect x="348" y="308" width="7" height="7" fill="#463ddf"/>
<rect x="354" y="308" width="7" height="7" fill="#4332ca"/>
<rect x="360" y="308" width="7" height="7" fill="#412dbd"/>
<rect x="366" y="308" width="7" height="7" fill="#412dbd"/>
<rect x="372" y="308" width="7" height="7" fill="#422ebf"/>
<rect x="378" y="308" width="7" height="7" fill="#422fc0"/>
<rect x="384" y="308" width="7" height="7" fill="#422ebf"/>
<rect x="390" y="308" width="7" height="7" fill="#422ebf"/>
<rect x="396" y="308" width="7" height="7" fill="#422fc1"/>
<rect x="402" y="308" width="7" height="7" fill="#422fc2"/>
<rect x="408" y="308" width="7" height="7" fill="#422fc2"/>
<rect x="414" y="308" width="7" height="7" fill="#422fc2"/>
<rect x="420" y="308" width="7" height="7" fill="#422fc2"/>
<rect x="426" y="308" width="7" height="7" fill="#4230c3"/>
<rect x="144" y="314" width="7" height="7" fill="#2d8df2"/>
<rect x="150" y="314" width="7" height="7" fill="#2d89f5"/>
<rect x="156" y="314" width="7" height="7" fill="#2e86f8"/>
<rect x="162" y="314" width="7" height="7" fill="#2f82f9"/>
<rect x="168" y="314" width="7" height="7" fill="#307efb"/>
<rect x="174" y="314" width="7" height="7" fill="#337bfc"/>
<rect x="180" y="314" width="7" height="7" fill="#3677fe"/>
<rect x="186" y="314" width="7" height="7" fill="#3a74fe"/>
<rect x="192" y="314" width="7" height="7" fill="#3d71ff"/>
<rect x="198" y="314" width="7" height="7" fill="#3f6eff"/>
<rect x="204" y="314" width="7" height="7" fill="#406cfe"/>
<rect x="210" y="314" width="7" height="7" fill="#426afe"/>
<rect x="216" y="314" width="7" height="7" fill="#4368fe"/>
<rect x="222" y="314" width="7" height="7" fill="#4367fd"/>
<rect x="228" y="314" width="7" height="7" fill="#4367fd"/>
<rect x="234" y="314" width="7" height="7" fill="#4367fd"/>
<rect x="240" y="314" width="7" height="7" fill="#4367fd"/>
<rect x="246" y="314" width="7" height="7" fill="#4367fd"/>
<rect x="252" y="314" width="7" height="7" fill="#4368fd"/>
<rect x="258" y="314" width="7" height="7" fill="#4367fd"/>
<rect x="264" y="314" width="7" height="7" fill="#4367fd"/>
<rect x="270" y="314" width="7" height="7" fill="#4368fd"/>
<rect x="276" y="314" width="7" height="7" fill="#4367fd"/>
<rect x="282" y="314" width="7" height="7" fill="#4465fd"/>
<rect x="288" y="314" width="7" height="7" fill="#4563fd"/>
<rect x="294" y="314" width="7" height="7" fill="#4661fc"/>
<rect x="300" y="314" width="7" height="7" fill="#465ffb"/>
<rect x="306" y="314" width="7" height="7" fill="#465ffb"/>
<rect x="312" y="314" width="7" height="7" fill="#465ffb"/>
<rect x="318" y="314" width="7" height="7" fill="#465ffb"/>
<rect x="324" y="314" width="7" height="7" fill="#465dfa"/>
<rect x="330" y="314" width="7" height="7" fill="#475af9"/>
<rect x="336" y="314" width="7" height="7" fill="#4853f5"/>
<rect x="342" y="314" width="7" height="7" fill="#4849ed"/>
<rect x="348" y="314" width="7" height="7" fill="#463cde"/>
<rect x="354" y="314" width="7" height="7" fill="#4332c9"/>
<rect x="360" y="314" width="7" height="7" fill="#412cba"/>
<rect x="366" y="314" width="7" height="7" fill="#402bb6"/>
<rect x="372" y="314" width="7" height="7" fill="#402bb7"/>
<rect x="378" y="314" width="7" height="7" fill="#412cb8"/>
<rect x="384" y="314" width="7" height="7" fill="#412cb9"/>
<rect x="390" y="314" width="7" height="7" fill="#412cba"/>
<rect x="396" y="314" width="7" height="7" fill="#412dbc"/>
<rect x="150" y="320" width="7" height="7" fill="#2e86f7"/>
<rect x="156" y="320" width="7" height="7" fill="#2e83f9"/>
<rect x="162" y="320" width="7" height="7" fill="#307ffb"/>
<rect x="168" y="320" width="7" height="7" fill="#327bfc"/>
<rect x="174" y="320" width="7" height="7" fill="#3678fe"/>
<rect x="180" y="320" width="7" height="7" fill="#3974fe"/>
<rect x="186" y="320" width="7" height="7" fill="#3c71ff"/>
<rect x="192" y="320" width="7" height="7" fill="#3f6eff"/>
<rect x="198" y="320" width="7" height="7" fill="#416cfe"/>
<rect x="204" y="320" width="7" height="7" fill="#4269fe"/>
<rect x="210" y="320" width="7" height="7" fill="#4367fd"/>
<rect x="216" y="320" width="7" height="7" fill="#4466fd"/>
<rect x="222" y="320" width="7" height="7" fill="#4465fd"/>
<rect x="228" y="320" width="7" height="7" fill="#4465fd"/>
<rect x="234" y="320" width="7" height="7" fill="#4465fd"/>
<rect x="240" y="320" width="7" height="7" fill="#4465fd"/>
<rect x="246" y="320" width="7" height="7" fill="#4465fd"/>
<rect x="252" y="320" width="7" height="7" fill="#4465fd"/>
<rect x="258" y="320" width="7" height="7" fill="#4465fd"/>
<rect x="264" y="320" width="7" height="7" fill="#4465fd"/>
<rect x="270" y="320" width="7" height="7" fill="#4465fd"/>
<rect x="276" y="320" width="7" height="7" fill="#4564fd"/>
<rect x="282" y="320" width="7" height="7" fill="#4562fc"/>
<rect x="288" y="320" width="7" height="7" fill="#4660fb"/>
<rect x="294" y="320" width="7" height="7" fill="#465efb"/>
<rect x="300" y="320" width="7" height="7" fill="#465dfb"/>
<rect x="306" y="320" width="7" height="7" fill="#465efb"/>
<rect x="312" y="320" width="7" height="7" fill="#465ffb"/>
<rect x="318" y="320" width="7" height="7" fill="#4660fb"/>
<rect x="324" y="320" width="7" height="7" fill="#465ffb"/>
<rect x="330" y="320" width="7" height="7" fill="#465dfa"/>
<rect x="336" y="320" width="7" height="7" fill="#4757f7"/>
<rect x="342" y="320" width="7" height="7" fill="#484df0"/>
<rect x="348" y="320" width="7" height="7" fill="#4740e4"/>
<rect x="354" y="320" width="7" height="7" fill="#4435d2"/>
<rect x="360" y="320" width="7" height="7" fill="#422fc1"/>
<rect x="366" y="320" width="7" height="7" fill="#412cb9"/>
<rect x="156" y="326" width="7" height="7" fill="#3080fb"/>
<rect x="162" y="326" width="7" height="7" fill="#327cfc"/>
<rect x="168" y="326" width="7" height="7" fill="#3578fd"/>
<rect x="174" y="326" width="7" height="7" fill="#3975fe"/>
<rect x="180" y="326" width="7" height="7" fill="#3c72ff"/>
<rect x="186" y="326" width="7" height="7" fill="#3f6eff"/>
<rect x="192" y="326" width="7" height="7" fill="#416cfe"/>
<rect x="198" y="326" width="7" height="7" fill="#4269fe"/>
<rect x="204" y="326" width="7" height="7" fill="#4367fd"/>
<rect x="210" y="326" width="7" height="7" fill="#4465fd"/>
<rect x="216" y="326" width="7" height="7" fill="#4564fd"/>
<rect x="222" y="326" width="7" height="7" fill="#4563fd"/>
<rect x="228" y="326" width="7" height="7" fill="#4563fc"/>
<rect x="234" y="326" width="7" height="7" fill="#4563fc"/>
<rect x="240" y="326" width="7" height="7" fill="#4563fd"/>
<rect x="246" y="326" width="7" height="7" fill="#4564fd"/>
<rect x="252" y="326" width="7" height="7" fill="#4564fd"/>
<rect x="258" y="326" width="7" height="7" fill="#4564fd"/>
<rect x="264" y="326" width="7" height="7" fill="#4563fd"/>
<rect x="270" y="326" width="7" height="7" fill="#4562fc"/>
<rect x="276" y="326" width="7" height="7" fill="#4561fc"/>
<rect x="282" y="326" width="7" height="7" fill="#465ffb"/>
<rect x="288" y="326" width="7" height="7" fill="#465efb"/>
<rect x="294" y="326" width="7" height="7" fill="#475cfa"/>
<rect x="300" y="326" width="7" height="7" fill="#475cfa"/>
<rect x="306" y="326" width="7" height="7" fill="#465dfb"/>
<rect x="312" y="326" width="7" height="7" fill="#465ffb"/>
<rect x="318" y="326" width="7" height="7" fill="#4661fc"/>
<rect x="324" y="326" width="7" height="7" fill="#4561fc"/>
<rect x="330" y="326" width="7" height="7" fill="#4660fc"/>
<rect x="336" y="326" width="7" height="7" fill="#475cfa"/>
<rect x="162" y="332" width="7" height="7" fill="#3479fd"/>
<rect x="168" y="332" width="7" height="7" fill="#3876fe"/>
<rect x="174" y="332" width="7" height="7" fill="#3b72ff"/>
<rect x="180" y="332" width="7" height="7" fill="#3e6fff"/>
<rect x="186" y="332" width="7" height="7" fill="#406cfe"/>
<rect x="192" y="332" width="7" height="7" fill="#4269fe"/>
<rect x="198" y="332" width="7" height="7" fill="#4367fd"/>
<rect x="204" y="332" width="7" height="7" fill="#4465fd"/>
<rect x="210" y="332" width="7" height="7" fill="#4563fd"/>
<rect x="216" y="332" width="7" height="7" fill="#4562fc"/>
<rect x="222" y="332" width="7" height="7" fill="#4561fc"/>
<rect x="228" y="332" width="7" height="7" fill="#4561fc"/>
<rect x="234" y="332" width="7" height="7" fill="#4561fc"/>
<rect x="240" y="332" width="7" height="7" fill="#4562fc"/>
<rect x="246" y="332" width="7" height="7" fill="#4562fc"/>
<rect x="252" y="332" width="7" height="7" fill="#4562fc"/>
<rect x="258" y="332" width="7" height="7" fill="#4562fc"/>
<rect x="264" y="332" width="7" height="7" fill="#4561fc"/>
<rect x="270" y="332" width="7" height="7" fill="#4660fc"/>
<rect x="276" y="332" width="7" height="7" fill="#465ffb"/>
<rect x="282" y="332" width="7" height="7" fill="#465efb"/>
<rect x="288" y="332" width="7" height="7" fill="#475cfa"/>
<rect x="294" y="332" width="7" height="7" fill="#475bfa"/>
<rect x="300" y="332" width="7" height="7" fill="#475cfa"/>
<rect x="306" y="332" width="7" height="7" fill="#465dfb"/>
<rect x="168" y="338" width="7" height="7" fill="#3a73fe"/>
<rect x="174" y="338" width="7" height="7" fill="#3e70ff"/>
<rect x="180" y="338" width="7" height="7" fill="#406dfe"/>
<rect x="186" y="338" width="7" height="7" fill="#426afe"/>
<rect x="192" y="338" width="7" height="7" fill="#4367fd"/>
<rect x="198" y="338" width="7" height="7" fill="#4465fd"/>
<rect x="204" y="338" width="7" height="7" fill="#4563fd"/>
<rect x="210" y="338" width="7" height="7" fill="#4562fc"/>
<rect x="216" y="338" width="7" height="7" fill="#4561fc"/>
<rect x="222" y="338" width="7" height="7" fill="#4660fc"/>
<rect x="228" y="338" width="7" height="7" fill="#4660fb"/>
<rect x="234" y="338" width="7" height="7" fill="#4660fb"/>
<rect x="240" y="338" width="7" height="7" fill="#4660fc"/>
<rect x="246" y="338" width="7" height="7" fill="#4660fc"/>
<rect x="252" y="338" width="7" height="7" fill="#4660fc"/>
<rect x="258" y="338" width="7" height="7" fill="#4660fc"/>
<rect x="264" y="338" width="7" height="7" fill="#4660fb"/>
<rect x="270" y="338" width="7" height="7" fill="#465ffb"/>
<rect x="276" y="338" width="7" height="7" fill="#465efb"/>
<rect x="174" y="344" width="7" height="7" fill="#3f6dfe"/>
<rect x="180" y="344" width="7" height="7" fill="#416bfe"/>
<rect x="186" y="344" width="7" height="7" fill="#4368fe"/>
<rect x="192" y="344" width="7" height="7" fill="#4466fd"/>
<rect x="198" y="344" width="7" height="7" fill="#4564fd"/>
<rect x="204" y="344" width="7" height="7" fill="#4562fc"/>
<rect x="210" y="344" width="7" height="7" fill="#4660fc"/>
<rect x="216" y="344" width="7" height="7" fill="#465ffb"/>
<rect x="222" y="344" width="7" height="7" fill="#465ffb"/>
<rect x="228" y="344" width="7" height="7" fill="#465efb"/>
<rect x="234" y="344" width="7" height="7" fill="#465efb"/>
</g>
<polygon points="127.0,173.0 134.5,176.5 145.0,184.0 156.6,192.0 160.5,196.5 159.0,200.0 154.0,203.0 149.0,199.0 143.0,193.0 137.0,186.0 132.0,179.0 128.0,174.0" fill="#7fcb62" filter="url(#b05)"/>
<polygon points="101.6,162.0 104.0,164.0 110.0,165.5 117.0,162.8 121.0,166.0 125.0,173.0 120.0,180.0 112.0,172.0 106.0,173.0 101.6,166.0" fill="#9cc74a" filter="url(#b05)"/>
<polygon points="108.5,168.0 110.0,165.5 112.4,164.0 115.6,164.0 119.0,166.4 122.2,169.6 124.8,173.0 123.0,176.0 120.5,179.6 116.0,176.0 112.0,171.0" fill="#b2bd3a" />
<polygon points="101.6,162.0 103.4,163.0 105.8,167.2 107.5,169.6 106.0,173.0 102.0,166.0" fill="#8ec94c" />
<polygon points="125.5,174.0 128.0,172.6 131.2,171.3 134.5,176.2 137.0,181.0 140.2,185.2 143.5,190.0 146.0,194.4 149.0,198.5 143.0,194.5 139.0,190.5 135.0,186.0 131.0,180.5 128.0,175.5" fill="#e9b232" />
<polygon points="161.5,197.8 163.0,194.2 165.6,193.4 167.2,199.0 168.5,203.0 164.7,199.0" fill="#e9b232" />
<polygon points="171.3,203.0 174.0,204.0 176.0,207.0 177.5,213.0 179.0,222.0 177.0,222.0 176.0,213.0 174.6,208.0" fill="#d4b636" />
<defs><linearGradient id="pk" x1="0" y1="0" x2="0" y2="1"><stop offset="0" stop-color="#dcc02e"/><stop offset="0.07" stop-color="#c8c034"/><stop offset="0.15" stop-color="#92cb54"/><stop offset="0.25" stop-color="#7ccc60"/><stop offset="0.38" stop-color="#58c980"/><stop offset="0.52" stop-color="#34c09e" stop-opacity="0.95"/><stop offset="0.68" stop-color="#20b4ba" stop-opacity="0.85"/><stop offset="0.85" stop-color="#1eaccc" stop-opacity="0.55"/><stop offset="1" stop-color="#1fa8d0" stop-opacity="0.15"/></linearGradient><linearGradient id="pk2" x1="0" y1="0" x2="0" y2="1"><stop offset="0" stop-color="#e0be2e"/><stop offset="0.5" stop-color="#a8c840"/><stop offset="1" stop-color="#58c980" stop-opacity="0.3"/></linearGradient></defs>
<polygon points="290.9,205.0 293.2,202.7 295.6,200.9 297.9,200.1 299.4,202.0 300.2,204.3 301.7,206.6 302.8,210.5 303.3,215.0 304.0,220.6 306.4,225.2 308.0,230.6 310.3,235.3 312.6,240.0 315.7,244.6 318.0,249.0 319.5,256.0 300.0,258.0 290.0,258.0 288.0,250.0 285.5,243.0 282.0,240.0 281.6,236.0 284.0,232.0 285.8,226.7 287.2,221.3 288.2,215.0 289.6,210.5 291.6,208.0" fill="url(#pk)" filter="url(#b05)"/>
<polygon points="295.6,200.9 297.9,200.1 299.4,202.0 300.2,204.3 301.7,206.6 302.8,210.5 303.3,215.0 304.0,220.6 305.0,226.0 301.0,224.0 299.5,214.0 298.0,207.0 296.0,204.0" fill="url(#pk2)" filter="url(#b05)"/>
<defs><linearGradient id="gmu" gradientUnits="userSpaceOnUse" x1="0" y1="173.4" x2="0" y2="145.8"><stop offset="0" stop-color="#2ebca8" stop-opacity="0.75"/><stop offset="1" stop-color="#2ebca8" stop-opacity="0"/></linearGradient></defs>
<polygon points="333.0,164.5 338.0,162.8 343.6,162.5 350.7,163.6 357.8,162.5 362.5,160.8 367.3,162.5 373.0,161.7 378.0,164.8 380.3,170.7 382.6,177.8 383.8,186.0 383.8,171.0 382.6,162.8 380.3,155.7 378.0,149.8 373.0,146.7 367.3,147.5 362.5,145.8 357.8,147.5 350.7,148.6 343.6,147.5 338.0,147.8 333.0,149.5" fill="url(#gmu)" filter="url(#b05)"/>
<defs><linearGradient id="gm" gradientUnits="userSpaceOnUse" x1="0" y1="173.4" x2="0" y2="201.0"><stop offset="0" stop-color="#62cc80" stop-opacity="0.85"/><stop offset="1" stop-color="#62cc80" stop-opacity="0"/></linearGradient></defs>
<polygon points="333.0,164.5 338.0,162.8 343.6,162.5 350.7,163.6 357.8,162.5 362.5,160.8 367.3,162.5 373.0,161.7 378.0,164.8 380.3,170.7 382.6,177.8 383.8,186.0 383.8,201.0 382.6,192.8 380.3,185.7 378.0,179.8 373.0,176.7 367.3,177.5 362.5,175.8 357.8,177.5 350.7,178.6 343.6,177.5 338.0,177.8 333.0,179.5" fill="url(#gm)" filter="url(#b05)"/>
<defs><linearGradient id="gfu" gradientUnits="userSpaceOnUse" x1="0" y1="189.6" x2="0" y2="170.0"><stop offset="0" stop-color="#18aaca" stop-opacity="0.80"/><stop offset="1" stop-color="#18aaca" stop-opacity="0"/></linearGradient></defs>
<polygon points="383.8,186.0 390.0,186.5 398.0,187.3 407.5,189.6 411.0,193.2 411.0,177.2 407.5,173.6 398.0,171.3 390.0,170.5 383.8,170.0" fill="url(#gfu)" filter="url(#b05)"/>
<defs><linearGradient id="gf" gradientUnits="userSpaceOnUse" x1="0" y1="197.0" x2="0" y2="221.0"><stop offset="0" stop-color="#3ec496" stop-opacity="0.85"/><stop offset="1" stop-color="#3ec496" stop-opacity="0"/></linearGradient></defs>
<polygon points="383.8,186.0 390.0,186.5 398.0,187.3 407.5,189.6 411.0,193.2 419.3,191.5 428.7,193.2 433.5,199.0 436.5,208.0 436.5,221.0 433.5,212.0 428.7,206.2 419.3,204.5 411.0,206.2 407.5,202.6 398.0,200.3 390.0,199.5 383.8,199.0" fill="url(#gf)" filter="url(#b05)"/>
<polygon points="258.3,108.5 258.6,85.0 262.0,85.0 263.6,88.5 262.4,100.0 263.4,109.0" fill="#f1ad3c" />
<defs><linearGradient id="gp" x1="0" y1="0" x2="0" y2="1"><stop offset="0" stop-color="#f6ea22"/><stop offset="0.55" stop-color="#f8da2c"/><stop offset="1" stop-color="#f9c836" stop-opacity="0"/></linearGradient></defs>
<polygon points="263.4,88.0 262.0,84.5 265.0,84.5 271.5,84.5 274.5,86.0 277.3,91.6 279.0,96.0 281.0,100.7 284.0,106.0 286.0,112.0 284.0,122.0 263.4,122.0" fill="url(#gp)" />
<defs><clipPath id="cw"><polygon points="284.0,105.0 293.0,111.5 302.0,118.5 307.7,129.0 313.0,137.4 320.3,143.3 325.7,148.5 331.0,156.0 336.6,164.6 340.0,175.0 343.0,184.0 380.0,184.0 380.0,100.0 284.0,100.0"/></clipPath>
<linearGradient id="gw" gradientUnits="userSpaceOnUse" x1="300" y1="112" x2="340" y2="180"><stop offset="0" stop-color="#d2b636"/><stop offset="0.25" stop-color="#b9bd40"/><stop offset="0.45" stop-color="#98c650"/><stop offset="0.62" stop-color="#6cc96e"/><stop offset="0.8" stop-color="#52c786"/><stop offset="1" stop-color="#36c0a2"/></linearGradient></defs>
<g clip-path="url(#cw)"><polygon points="276.0,110.0 285.0,116.5 294.0,123.5 299.7,134.0 305.0,142.4 312.3,148.3 317.7,153.5 323.0,161.0 328.6,169.6 332.0,180.0 335.0,189.0 352.0,179.0 349.0,170.0 345.6,159.6 340.0,151.0 334.7,143.5 329.3,138.3 322.0,132.4 316.7,124.0 311.0,113.5 302.0,106.5 293.0,100.0" fill="url(#gw)" filter="url(#b2)" opacity="0.95"/></g>
<defs><linearGradient id="gs" gradientUnits="userSpaceOnUse" x1="0" y1="203" x2="0" y2="266"><stop offset="0" stop-color="#e4b434"/><stop offset="0.12" stop-color="#c4bd38"/><stop offset="0.3" stop-color="#9cc648"/><stop offset="0.5" stop-color="#74c968"/><stop offset="0.7" stop-color="#46c58c"/><stop offset="0.88" stop-color="#24b8b0"/><stop offset="1" stop-color="#1caad0" stop-opacity="0"/></linearGradient></defs>
<polygon points="172.0,203.0 175.0,203.5 178.5,207.0 181.0,214.0 183.0,224.0 184.8,236.0 186.0,248.0 187.5,258.0 190.0,264.0 186.0,264.5 183.0,257.0 181.5,248.0 180.5,236.0 178.5,222.0 176.5,211.0" fill="url(#gs)" filter="url(#b05)"/>
<defs><clipPath id="cd"><polygon points="366.0,233.0 375.0,240.6 386.5,252.0 396.0,261.5 400.5,268.5 403.0,275.5 404.0,284.0 440.0,284.0 440.0,215.0 366.0,215.0"/></clipPath></defs>
<g clip-path="url(#cd)"><polygon points="360.0,238.0 369.0,245.6 380.5,257.0 390.0,266.5 394.5,273.5 397.0,280.5 398.0,289.0 430.0,274.0 429.0,265.5 426.5,258.5 422.0,251.5 412.5,242.0 401.0,230.6 392.0,223.0" fill="#3a5cf6" filter="url(#b2)" opacity="0.33"/></g>
<polygon points="346.0,301.0 350.0,297.0 354.0,298.0 358.0,294.0 363.0,295.5 368.0,291.0 374.0,292.5 380.0,289.0 386.0,290.5 392.0,288.0 397.0,290.0 402.0,292.0 402.0,303.0 390.0,307.0 372.0,311.0 352.0,309.0" fill="#4139bc" filter="url(#b05)" opacity="0.8"/>
<defs><linearGradient id="gr" gradientUnits="userSpaceOnUse" x1="428" y1="0" x2="444" y2="0"><stop offset="0" stop-color="#4038b8" stop-opacity="0"/><stop offset="1" stop-color="#4038b8" stop-opacity="0.55"/></linearGradient></defs>
<polygon points="428.0,232.0 443.0,225.0 444.5,300.0 428.0,300.0" fill="url(#gr)" />
</g>
<polygon points="101.6,162.0 102.6,161.6 106.0,172.0 109.0,168.0 110.6,167.0 115.0,174.0 120.0,179.0 125.0,173.0 128.0,172.0 132.0,177.0 137.0,185.0 143.0,192.0 149.0,198.0 154.0,202.0 159.0,199.0 164.0,196.0 169.0,200.0 174.0,204.0 177.0,211.0 178.5,219.5 181.0,236.0 182.0,248.0 183.5,256.0 186.7,263.6 193.0,265.5 198.0,274.5 203.0,285.0 206.0,291.0 208.0,298.0 210.0,305.0 212.0,312.0 216.0,314.0 222.0,315.0 228.0,317.0 234.0,321.0 240.0,323.0 245.9,322.0 245.9,338.6 184.5,349.5 88.4,260.6 101.6,258.4" fill="#3e26a8"/>
<polygon points="254.4,337.1 254.4,322.0 258.0,321.0 258.4,313.0 266.0,312.0 270.0,313.0 275.0,312.0 277.0,300.0 282.0,296.0 283.0,284.0 287.0,282.5 288.0,272.0 289.6,271.8 299.5,271.8 299.5,249.6 308.8,249.6 308.8,258.2 312.5,258.7 312.5,267.0 319.0,267.0 320.7,272.0 324.0,273.5 326.0,274.0 327.0,286.0 336.0,285.0 338.0,282.0 340.0,286.0 341.0,294.0 344.0,295.0 345.0,303.0 350.0,304.0 351.0,308.0 356.0,308.0 357.0,304.0 358.0,309.0 366.0,308.0 370.0,309.0 376.0,310.0 388.0,305.0 393.0,302.0 396.0,297.0 399.0,302.0 402.0,301.0 403.0,287.0 406.0,285.0 407.0,280.0 408.0,285.0 412.0,287.0 414.0,293.0 420.0,294.0 422.0,299.5 430.0,297.0 437.0,295.8 443.1,294.8 443.1,284.5 459.3,300.7" fill="#3e26a8"/>
<polygon points="246.1,322.8 254.4,322.8 254.4,338.1 246.1,339.6" fill="#fff"/>
<g fill="none" stroke-linejoin="round">
<path d="M261.2,164.5C261.6,163.9 262.7,162.2 263.5,161.0C264.3,159.8 265.0,158.5 265.9,157.2C266.8,155.9 268.0,155.0 269.0,153.3C270.0,151.6 271.1,149.4 272.0,147.0C272.9,144.6 273.6,141.5 274.4,138.6C275.2,135.7 276.0,132.5 276.7,129.3C277.4,126.1 277.7,122.7 278.3,119.3C278.9,115.9 279.8,112.2 280.5,109.0C281.2,105.8 281.9,103.3 282.6,100.4C283.3,97.5 284.1,94.0 284.8,91.6C285.5,89.2 286.1,87.2 287.0,85.8C287.9,84.4 289.0,83.4 290.0,83.2C291.0,83.0 292.0,83.7 292.8,84.4C293.6,85.1 294.3,86.1 295.0,87.3C295.7,88.5 296.4,90.1 297.2,91.6C298.0,93.0 299.0,94.3 300.0,96.0C301.0,97.7 302.0,100.0 303.0,101.8C304.0,103.6 305.0,105.4 306.0,107.0C307.0,108.6 307.9,109.7 308.8,111.3C309.8,112.9 310.7,114.8 311.7,116.4C312.7,118.0 313.6,119.5 314.6,120.7C315.6,121.9 316.3,122.6 317.5,123.6C318.7,124.6 320.5,125.5 322.0,126.5C323.5,127.5 324.9,128.2 326.3,129.5C327.7,130.8 329.2,133.2 330.6,134.5C332.1,135.8 333.6,136.3 335.0,137.0C336.4,137.7 337.7,137.9 339.0,138.5C340.3,139.1 342.1,139.3 343.0,140.5C343.9,141.7 344.1,143.8 344.7,145.6C345.3,147.3 345.9,149.0 346.5,151.0C347.1,153.0 347.7,155.1 348.3,157.4C348.9,159.7 349.2,161.8 350.0,164.6C350.8,167.4 352.1,170.8 353.0,174.0C353.9,177.2 354.8,181.3 355.5,184.0C356.2,186.7 357.1,189.0 357.4,190.0" stroke="#26ea24" stroke-width="3.3" stroke-linecap="round"/>
<path d="M270.0,153.0C270.5,152.8 271.7,152.5 272.8,151.5C273.9,150.5 275.5,149.2 276.7,147.0C277.9,144.8 279.1,140.4 279.8,138.6C280.6,136.8 280.6,138.0 281.2,136.0C281.8,134.0 282.5,129.8 283.4,126.5C284.2,123.2 285.3,119.3 286.3,116.4C287.3,113.5 288.2,111.4 289.2,109.0C290.1,106.6 291.0,103.8 292.0,101.8C293.0,99.8 294.0,98.2 295.0,96.7C296.0,95.2 297.0,93.9 298.0,93.0C299.0,92.1 299.9,91.4 300.8,91.3C301.8,91.2 302.8,91.9 303.7,92.4C304.6,92.9 305.3,93.5 306.0,94.5C306.7,95.5 307.2,97.0 308.0,98.2C308.8,99.4 310.1,100.6 311.0,101.8C311.9,103.0 312.4,104.3 313.2,105.5C314.0,106.7 315.0,107.5 316.0,109.0C317.0,110.5 318.0,112.5 319.0,114.2C320.0,115.9 321.0,117.7 322.0,119.3C323.0,120.9 323.9,122.1 324.8,123.6C325.8,125.0 326.7,126.5 327.7,128.0C328.7,129.5 329.4,131.0 330.6,132.5C331.8,134.0 334.3,136.2 335.0,137.0" stroke="#26ea24" stroke-width="3.3" stroke-linecap="round"/>
<path d="M296.0,98.0C295.5,99.3 293.9,103.5 293.0,106.0C292.1,108.5 291.3,110.7 290.5,113.0C289.7,115.3 288.9,117.3 288.3,120.0C287.7,122.7 287.4,126.2 286.8,129.3C286.2,132.4 285.1,135.8 284.5,138.6C283.9,141.4 283.6,144.1 283.0,146.4C282.4,148.7 281.5,150.8 280.6,152.6C279.7,154.4 278.5,155.9 277.5,157.2C276.5,158.5 274.9,159.1 274.4,160.3C273.8,161.5 273.8,162.9 274.2,164.2C274.6,165.5 275.8,166.8 276.7,168.0C277.6,169.2 278.6,170.4 279.8,171.2C281.0,172.0 282.5,172.6 283.7,172.7C284.9,172.8 285.9,172.8 286.8,172.0C287.7,171.2 288.4,169.7 289.0,168.0C289.6,166.3 290.2,164.4 290.7,162.0C291.2,159.6 291.7,156.2 292.2,153.3C292.7,150.4 293.2,147.8 293.8,144.8C294.4,141.8 295.0,138.3 295.6,135.5C296.2,132.7 296.9,130.1 297.6,127.8C298.3,125.5 298.9,123.2 299.8,121.5C300.7,119.8 301.7,119.0 303.0,117.7C304.3,116.5 306.2,115.3 307.7,114.0C309.2,112.7 310.7,110.7 311.9,109.7C313.1,108.7 313.9,108.1 314.8,108.0C315.7,107.9 316.6,108.3 317.4,109.3C318.1,110.3 318.7,112.5 319.3,114.2C319.9,116.0 320.5,118.1 321.2,119.8C321.9,121.5 322.8,123.0 323.7,124.6C324.6,126.2 325.9,128.7 326.3,129.5" stroke="#26ea24" stroke-width="3.3" stroke-linecap="round"/>
<path d="M282.6,100.4C283.0,98.9 284.1,94.0 284.8,91.6C285.5,89.2 286.1,87.2 287.0,85.8C287.9,84.4 289.0,83.4 290.0,83.2C291.0,83.0 292.0,83.7 292.8,84.4C293.6,85.1 294.3,86.1 295.0,87.3C295.7,88.5 296.4,90.1 297.2,91.6C298.0,93.0 299.0,94.3 300.0,96.0C301.0,97.7 302.0,100.0 303.0,101.8C304.0,103.6 305.0,105.4 306.0,107.0C307.0,108.6 307.9,109.7 308.8,111.3C309.8,112.9 310.7,114.8 311.7,116.4C312.7,118.0 313.6,119.5 314.6,120.7C315.6,121.9 316.3,122.6 317.5,123.6C318.7,124.6 320.5,125.5 322.0,126.5C323.5,127.5 324.9,128.2 326.3,129.5C327.7,130.8 329.2,133.2 330.6,134.5C332.1,135.8 333.6,136.3 335.0,137.0C336.4,137.7 337.7,137.9 339.0,138.5C340.3,139.1 342.1,139.3 343.0,140.5C343.9,141.7 344.1,143.8 344.7,145.6C345.3,147.3 345.9,149.0 346.5,151.0C347.1,153.0 347.7,155.1 348.3,157.4C348.9,159.7 349.2,161.8 350.0,164.6C350.8,167.4 352.1,170.8 353.0,174.0C353.9,177.2 354.8,181.3 355.5,184.0C356.2,186.7 357.1,189.0 357.4,190.0" stroke="#1cf01c" stroke-width="3.8" stroke-linecap="round"/>
<path d="M292.0,101.8C292.5,101.0 294.0,98.2 295.0,96.7C296.0,95.2 297.0,93.9 298.0,93.0C299.0,92.1 299.9,91.4 300.8,91.3C301.8,91.2 302.8,91.9 303.7,92.4C304.6,92.9 305.3,93.5 306.0,94.5C306.7,95.5 307.2,97.0 308.0,98.2C308.8,99.4 310.1,100.6 311.0,101.8C311.9,103.0 312.4,104.3 313.2,105.5C314.0,106.7 315.0,107.5 316.0,109.0C317.0,110.5 318.0,112.5 319.0,114.2C320.0,115.9 321.0,117.7 322.0,119.3C323.0,120.9 323.9,122.1 324.8,123.6C325.8,125.0 326.7,126.5 327.7,128.0C328.7,129.5 329.4,131.0 330.6,132.5C331.8,134.0 334.3,136.2 335.0,137.0" stroke="#1cf01c" stroke-width="3.8" stroke-linecap="round"/>
<path d="M303.0,117.7C303.8,117.1 306.2,115.3 307.7,114.0C309.2,112.7 310.7,110.7 311.9,109.7C313.1,108.7 313.9,108.1 314.8,108.0C315.7,107.9 316.6,108.3 317.4,109.3C318.1,110.3 318.7,112.5 319.3,114.2C319.9,116.0 320.5,118.1 321.2,119.8C321.9,121.5 322.8,123.0 323.7,124.6C324.6,126.2 325.9,128.7 326.3,129.5" stroke="#1cf01c" stroke-width="3.8" stroke-linecap="round"/>
<path d="M261.2,164.5C261.6,163.9 262.7,162.2 263.5,161.0C264.3,159.8 265.0,158.5 265.9,157.2C266.8,155.9 268.0,155.0 269.0,153.3C270.0,151.6 271.1,149.4 272.0,147.0C272.9,144.6 273.6,141.5 274.4,138.6C275.2,135.7 276.0,132.5 276.7,129.3C277.4,126.1 277.7,122.7 278.3,119.3C278.9,115.9 279.8,112.2 280.5,109.0C281.2,105.8 281.9,103.3 282.6,100.4C283.3,97.5 284.1,94.0 284.8,91.6C285.5,89.2 286.1,87.2 287.0,85.8C287.9,84.4 289.0,83.4 290.0,83.2C291.0,83.0 292.0,83.7 292.8,84.4C293.6,85.1 294.3,86.1 295.0,87.3C295.7,88.5 296.4,90.1 297.2,91.6C298.0,93.0 299.0,94.3 300.0,96.0C301.0,97.7 302.0,100.0 303.0,101.8C304.0,103.6 305.0,105.4 306.0,107.0C307.0,108.6 307.9,109.7 308.8,111.3C309.8,112.9 310.7,114.8 311.7,116.4C312.7,118.0 313.6,119.5 314.6,120.7C315.6,121.9 316.3,122.6 317.5,123.6C318.7,124.6 320.5,125.5 322.0,126.5C323.5,127.5 324.9,128.2 326.3,129.5C327.7,130.8 329.2,133.2 330.6,134.5C332.1,135.8 333.6,136.3 335.0,137.0C336.4,137.7 337.7,137.9 339.0,138.5C340.3,139.1 342.1,139.3 343.0,140.5C343.9,141.7 344.1,143.8 344.7,145.6C345.3,147.3 345.9,149.0 346.5,151.0C347.1,153.0 347.7,155.1 348.3,157.4C348.9,159.7 349.2,161.8 350.0,164.6C350.8,167.4 352.1,170.8 353.0,174.0C353.9,177.2 354.8,181.3 355.5,184.0C356.2,186.7 357.1,189.0 357.4,190.0" stroke="#d8281c" stroke-width="1.3" transform="translate(0.2,-0.2)"/>
<path d="M270.0,153.0C270.5,152.8 271.7,152.5 272.8,151.5C273.9,150.5 275.5,149.2 276.7,147.0C277.9,144.8 279.1,140.4 279.8,138.6C280.6,136.8 280.6,138.0 281.2,136.0C281.8,134.0 282.5,129.8 283.4,126.5C284.2,123.2 285.3,119.3 286.3,116.4C287.3,113.5 288.2,111.4 289.2,109.0C290.1,106.6 291.0,103.8 292.0,101.8C293.0,99.8 294.0,98.2 295.0,96.7C296.0,95.2 297.0,93.9 298.0,93.0C299.0,92.1 299.9,91.4 300.8,91.3C301.8,91.2 302.8,91.9 303.7,92.4C304.6,92.9 305.3,93.5 306.0,94.5C306.7,95.5 307.2,97.0 308.0,98.2C308.8,99.4 310.1,100.6 311.0,101.8C311.9,103.0 312.4,104.3 313.2,105.5C314.0,106.7 315.0,107.5 316.0,109.0C317.0,110.5 318.0,112.5 319.0,114.2C320.0,115.9 321.0,117.7 322.0,119.3C323.0,120.9 323.9,122.1 324.8,123.6C325.8,125.0 326.7,126.5 327.7,128.0C328.7,129.5 329.4,131.0 330.6,132.5C331.8,134.0 334.3,136.2 335.0,137.0" stroke="#d8281c" stroke-width="1.3" transform="translate(0.2,-0.2)"/>
<path d="M296.0,98.0C295.5,99.3 293.9,103.5 293.0,106.0C292.1,108.5 291.3,110.7 290.5,113.0C289.7,115.3 288.9,117.3 288.3,120.0C287.7,122.7 287.4,126.2 286.8,129.3C286.2,132.4 285.1,135.8 284.5,138.6C283.9,141.4 283.6,144.1 283.0,146.4C282.4,148.7 281.5,150.8 280.6,152.6C279.7,154.4 278.5,155.9 277.5,157.2C276.5,158.5 274.9,159.1 274.4,160.3C273.8,161.5 273.8,162.9 274.2,164.2C274.6,165.5 275.8,166.8 276.7,168.0C277.6,169.2 278.6,170.4 279.8,171.2C281.0,172.0 282.5,172.6 283.7,172.7C284.9,172.8 285.9,172.8 286.8,172.0C287.7,171.2 288.4,169.7 289.0,168.0C289.6,166.3 290.2,164.4 290.7,162.0C291.2,159.6 291.7,156.2 292.2,153.3C292.7,150.4 293.2,147.8 293.8,144.8C294.4,141.8 295.0,138.3 295.6,135.5C296.2,132.7 296.9,130.1 297.6,127.8C298.3,125.5 298.9,123.2 299.8,121.5C300.7,119.8 301.7,119.0 303.0,117.7C304.3,116.5 306.2,115.3 307.7,114.0C309.2,112.7 310.7,110.7 311.9,109.7C313.1,108.7 313.9,108.1 314.8,108.0C315.7,107.9 316.6,108.3 317.4,109.3C318.1,110.3 318.7,112.5 319.3,114.2C319.9,116.0 320.5,118.1 321.2,119.8C321.9,121.5 322.8,123.0 323.7,124.6C324.6,126.2 325.9,128.7 326.3,129.5" stroke="#d8281c" stroke-width="1.3" transform="translate(0.2,-0.2)"/>
<path d="M261.2,164.5C261.6,163.9 262.7,162.2 263.5,161.0C264.3,159.8 265.0,158.5 265.9,157.2C266.8,155.9 268.0,155.0 269.0,153.3C270.0,151.6 271.1,149.4 272.0,147.0C272.9,144.6 273.6,141.5 274.4,138.6C275.2,135.7 276.0,132.5 276.7,129.3C277.4,126.1 277.7,122.7 278.3,119.3C278.9,115.9 279.8,112.2 280.5,109.0C281.2,105.8 281.9,103.3 282.6,100.4C283.3,97.5 284.1,94.0 284.8,91.6C285.5,89.2 286.1,87.2 287.0,85.8C287.9,84.4 289.0,83.4 290.0,83.2C291.0,83.0 292.0,83.7 292.8,84.4C293.6,85.1 294.3,86.1 295.0,87.3C295.7,88.5 296.4,90.1 297.2,91.6C298.0,93.0 299.0,94.3 300.0,96.0C301.0,97.7 302.0,100.0 303.0,101.8C304.0,103.6 305.0,105.4 306.0,107.0C307.0,108.6 307.9,109.7 308.8,111.3C309.8,112.9 310.7,114.8 311.7,116.4C312.7,118.0 313.6,119.5 314.6,120.7C315.6,121.9 316.3,122.6 317.5,123.6C318.7,124.6 320.5,125.5 322.0,126.5C323.5,127.5 324.9,128.2 326.3,129.5C327.7,130.8 329.2,133.2 330.6,134.5C332.1,135.8 333.6,136.3 335.0,137.0C336.4,137.7 337.7,137.9 339.0,138.5C340.3,139.1 342.1,139.3 343.0,140.5C343.9,141.7 344.1,143.8 344.7,145.6C345.3,147.3 345.9,149.0 346.5,151.0C347.1,153.0 347.7,155.1 348.3,157.4C348.9,159.7 349.2,161.8 350.0,164.6C350.8,167.4 352.1,170.8 353.0,174.0C353.9,177.2 354.8,181.3 355.5,184.0C356.2,186.7 357.1,189.0 357.4,190.0" stroke="#2a50c8" stroke-width="1.6" stroke-dasharray="1.15 1.35"/>
<path d="M270.0,153.0C270.5,152.8 271.7,152.5 272.8,151.5C273.9,150.5 275.5,149.2 276.7,147.0C277.9,144.8 279.1,140.4 279.8,138.6C280.6,136.8 280.6,138.0 281.2,136.0C281.8,134.0 282.5,129.8 283.4,126.5C284.2,123.2 285.3,119.3 286.3,116.4C287.3,113.5 288.2,111.4 289.2,109.0C290.1,106.6 291.0,103.8 292.0,101.8C293.0,99.8 294.0,98.2 295.0,96.7C296.0,95.2 297.0,93.9 298.0,93.0C299.0,92.1 299.9,91.4 300.8,91.3C301.8,91.2 302.8,91.9 303.7,92.4C304.6,92.9 305.3,93.5 306.0,94.5C306.7,95.5 307.2,97.0 308.0,98.2C308.8,99.4 310.1,100.6 311.0,101.8C311.9,103.0 312.4,104.3 313.2,105.5C314.0,106.7 315.0,107.5 316.0,109.0C317.0,110.5 318.0,112.5 319.0,114.2C320.0,115.9 321.0,117.7 322.0,119.3C323.0,120.9 323.9,122.1 324.8,123.6C325.8,125.0 326.7,126.5 327.7,128.0C328.7,129.5 329.4,131.0 330.6,132.5C331.8,134.0 334.3,136.2 335.0,137.0" stroke="#2a50c8" stroke-width="1.6" stroke-dasharray="1.15 1.35"/>
<path d="M296.0,98.0C295.5,99.3 293.9,103.5 293.0,106.0C292.1,108.5 291.3,110.7 290.5,113.0C289.7,115.3 288.9,117.3 288.3,120.0C287.7,122.7 287.4,126.2 286.8,129.3C286.2,132.4 285.1,135.8 284.5,138.6C283.9,141.4 283.6,144.1 283.0,146.4C282.4,148.7 281.5,150.8 280.6,152.6C279.7,154.4 278.5,155.9 277.5,157.2C276.5,158.5 274.9,159.1 274.4,160.3C273.8,161.5 273.8,162.9 274.2,164.2C274.6,165.5 275.8,166.8 276.7,168.0C277.6,169.2 278.6,170.4 279.8,171.2C281.0,172.0 282.5,172.6 283.7,172.7C284.9,172.8 285.9,172.8 286.8,172.0C287.7,171.2 288.4,169.7 289.0,168.0C289.6,166.3 290.2,164.4 290.7,162.0C291.2,159.6 291.7,156.2 292.2,153.3C292.7,150.4 293.2,147.8 293.8,144.8C294.4,141.8 295.0,138.3 295.6,135.5C296.2,132.7 296.9,130.1 297.6,127.8C298.3,125.5 298.9,123.2 299.8,121.5C300.7,119.8 301.7,119.0 303.0,117.7C304.3,116.5 306.2,115.3 307.7,114.0C309.2,112.7 310.7,110.7 311.9,109.7C313.1,108.7 313.9,108.1 314.8,108.0C315.7,107.9 316.6,108.3 317.4,109.3C318.1,110.3 318.7,112.5 319.3,114.2C319.9,116.0 320.5,118.1 321.2,119.8C321.9,121.5 322.8,123.0 323.7,124.6C324.6,126.2 325.9,128.7 326.3,129.5" stroke="#2a50c8" stroke-width="1.6" stroke-dasharray="1.15 1.35"/>
<path d="M286.0,88.0C286.2,87.6 286.6,86.4 287.3,85.6C288.0,84.8 289.1,83.2 290.0,83.0C290.9,82.8 292.1,83.6 292.8,84.2C293.6,84.8 294.2,86.1 294.5,86.5" stroke="#14f014" stroke-width="2.5" stroke-linecap="round"/>
<path d="M298.5,92.6C298.9,92.3 299.9,91.2 300.8,91.1C301.7,91.0 302.9,91.7 303.7,92.2C304.5,92.7 305.2,93.7 305.5,94.0" stroke="#14f014" stroke-width="2.5" stroke-linecap="round"/>
<path d="M312.5,109.2C312.9,109.0 314.1,107.9 314.8,107.8C315.6,107.7 316.6,108.6 317.0,108.8" stroke="#14f014" stroke-width="2.5" stroke-linecap="round"/>
<path d="M306.5,116.5C307.1,116.8 308.8,118.0 310.0,118.5C311.2,119.0 312.7,119.5 314.0,119.5C315.3,119.5 317.3,118.8 318.0,118.7" stroke="#14f014" stroke-width="2.5" stroke-linecap="round"/>
<path d="M326.3,129.5C327.0,130.3 329.9,133.7 330.6,134.5" stroke="#14f014" stroke-width="2.5" stroke-linecap="round"/>
<path d="M346.5,151.0C346.8,152.1 347.7,155.1 348.3,157.4C348.9,159.7 349.2,161.8 350.0,164.6C350.8,167.4 352.1,170.8 353.0,174.0C353.9,177.2 354.8,181.3 355.5,184.0C356.2,186.7 357.1,189.0 357.4,190.0" stroke="#14f014" stroke-width="2.5" stroke-linecap="round"/>
<path d="M344.0,142.0C344.4,143.5 345.8,148.4 346.5,151.0C347.2,153.6 347.7,155.1 348.3,157.4C348.9,159.7 349.2,161.8 350.0,164.6C350.8,167.4 352.1,170.8 353.0,174.0C353.9,177.2 355.1,182.3 355.5,184.0" stroke="#d8281c" stroke-width="1" stroke-dasharray="3 2.5"/>
<path d="M357.5,190V222" stroke="#b03050" stroke-width="1.2"/>
</g>
<g stroke="#262626" stroke-width="1" fill="none">
<polyline points="64.6,61.0 64.6,241.8"/>
<polyline points="64.6,241.8 184.1,354.1 459.6,305.7"/>
<line x1="184.1" y1="354.1" x2="188.7" y2="358.7"/>
<line x1="230.0" y1="346.0" x2="234.6" y2="350.6"/>
<line x1="275.9" y1="338.0" x2="280.5" y2="342.6"/>
<line x1="321.9" y1="329.9" x2="326.5" y2="334.5"/>
<line x1="367.8" y1="321.9" x2="372.4" y2="326.5"/>
<line x1="413.7" y1="313.8" x2="418.3" y2="318.4"/>
<line x1="184.1" y1="354.1" x2="177.1" y2="355.3"/>
<line x1="144.2" y1="316.7" x2="137.2" y2="317.9"/>
<line x1="104.4" y1="279.2" x2="97.4" y2="280.4"/>
<line x1="64.6" y1="241.8" x2="57.6" y2="243.0"/>
<line x1="64.6" y1="235.5" x2="59.2" y2="230.9"/>
<line x1="64.6" y1="203.1" x2="59.2" y2="198.5"/>
<line x1="64.6" y1="170.7" x2="59.2" y2="166.1"/>
<line x1="64.6" y1="138.3" x2="59.2" y2="133.7"/>
<line x1="64.6" y1="105.9" x2="59.2" y2="101.3"/>
<line x1="64.6" y1="73.5" x2="59.2" y2="68.9"/>
</g>
<g font-size="10.4px">
<text x="194.1" y="373.1" text-anchor="middle">0</text>
<text x="247.0" y="365.0" text-anchor="middle">200</text>
<text x="292.9" y="357.0" text-anchor="middle">400</text>
<text x="338.9" y="348.9" text-anchor="middle">600</text>
<text x="384.8" y="340.9" text-anchor="middle">800</text>
<text x="433.7" y="332.8" text-anchor="middle">1000</text>
<text x="172.3" y="367.9" text-anchor="end">0</text>
<text x="132.4" y="330.5" text-anchor="end">500</text>
<text x="92.6" y="293.0" text-anchor="end">1000</text>
<text x="52.8" y="255.6" text-anchor="end">1500</text>
<text x="55.0" y="232.6" text-anchor="end">1255</text>
<text x="55.0" y="200.2" text-anchor="end">1260</text>
<text x="55.0" y="167.8" text-anchor="end">1265</text>
<text x="55.0" y="135.4" text-anchor="end">1270</text>
<text x="55.0" y="103.0" text-anchor="end">1275</text>
<text x="55.0" y="70.6" text-anchor="end">1280</text>
</g>
<g font-size="12px">
<text x="317.7" y="375.6" text-anchor="middle">x [pixel]</text>
<text x="89.5" y="359.3" text-anchor="middle">y [pixel]</text>
<text transform="translate(21.2,152) rotate(-90)" text-anchor="middle">Altitude [m]</text>
</g>
<rect x="289.5" y="17.5" width="130" height="43" fill="#fff" stroke="#262626" stroke-width="1"/>
<line x1="293" y1="26.3" x2="325.5" y2="26.3" stroke="#0072bd" stroke-width="2.2"/>
<circle cx="309.2" cy="39.6" r="1.3" fill="#00ff00"/>
<line x1="293" y1="53.5" x2="325.5" y2="53.5" stroke="#e0332c" stroke-width="0.9"/>
<g font-size="10.5px"><text x="328.6" y="29.9" textLength="86.6" lengthAdjust="spacingAndGlyphs">Reference trajectory</text><text x="328.6" y="42.9" textLength="19.3" lengthAdjust="spacingAndGlyphs">WPs</text><text x="328.6" y="56.6" textLength="86.4" lengthAdjust="spacingAndGlyphs">Performed trajectory</text></g>
<rect x="493.2" y="12.5" width="21" height="341" fill="url(#cb)" stroke="#262626" stroke-width="1"/>
<g stroke="#262626" stroke-width="1">
<line x1="510.7" y1="347.9" x2="514.2" y2="347.9"/>
<line x1="510.7" y1="277.0" x2="514.2" y2="277.0"/>
<line x1="510.7" y1="206.1" x2="514.2" y2="206.1"/>
<line x1="510.7" y1="135.2" x2="514.2" y2="135.2"/>
<line x1="510.7" y1="64.3" x2="514.2" y2="64.3"/>
</g><g font-size="10px">
<text x="519" y="351.5">1255</text>
<text x="519" y="280.6">1260</text>
<text x="519" y="209.7">1265</text>
<text x="519" y="138.8">1270</text>
<text x="519" y="67.9">1275</text>
</g>
</svg></body></html>
